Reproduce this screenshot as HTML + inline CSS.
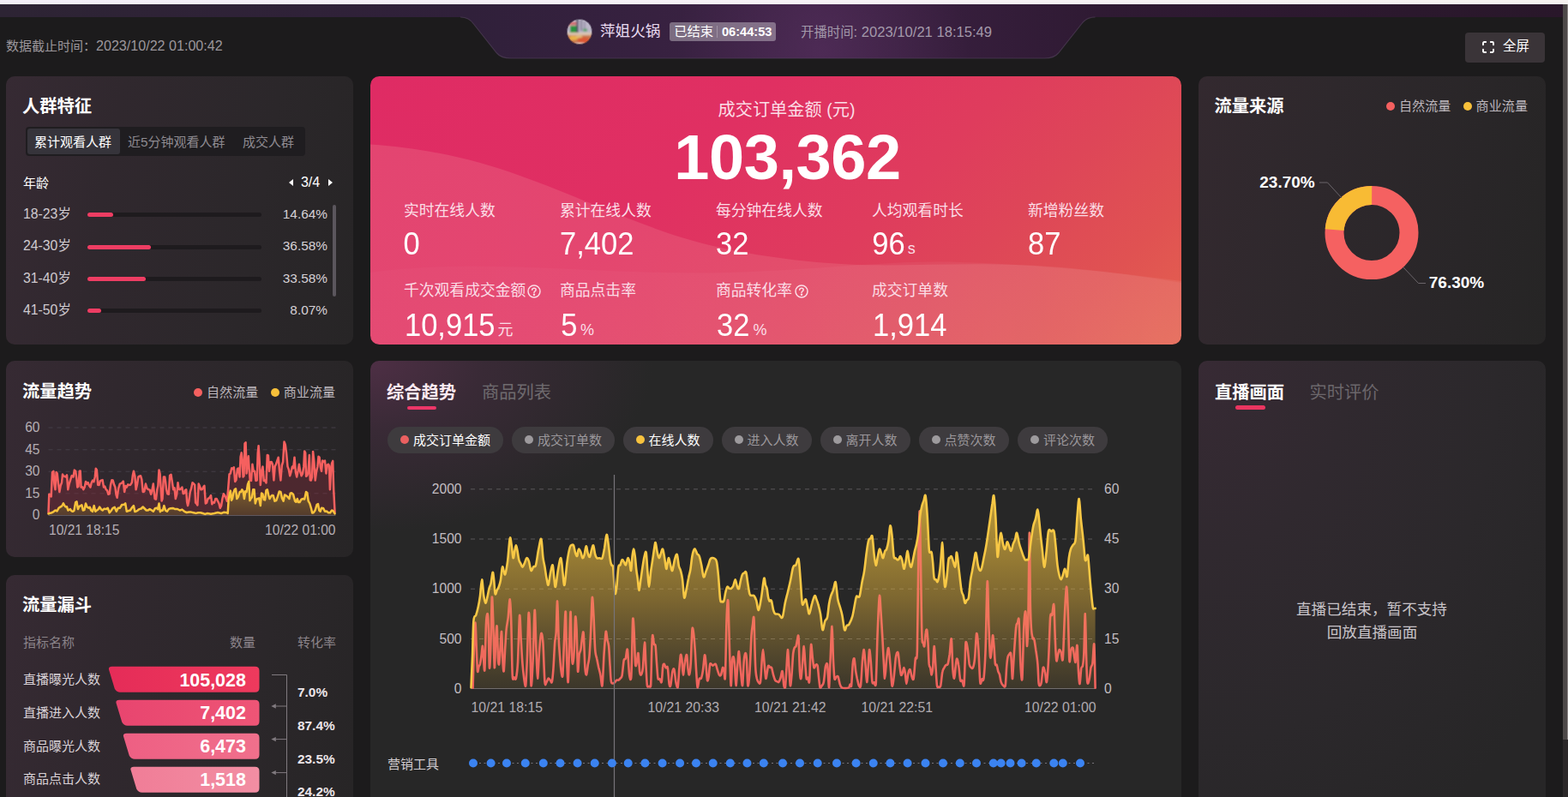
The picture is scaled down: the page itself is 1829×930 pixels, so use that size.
<!DOCTYPE html>
<html lang="zh-CN">
<head>
<meta charset="utf-8">
<title>直播大屏</title>
<style>
*{box-sizing:border-box;margin:0;padding:0}
html,body{width:1829px;height:930px;overflow:hidden;background:#1c1b1c}
body{position:relative;font-family:"Liberation Sans","Noto Sans CJK SC",sans-serif;font-size:15.4px;color:#fff;line-height:1}
.a{position:absolute}
.t{position:absolute;white-space:nowrap;line-height:1;height:1em;transform:translateY(-50%)}
.r{text-align:right;transform:translate(-100%,-50%)}
.c{text-align:center;transform:translate(-50%,-50%)}
.panel{position:absolute;border-radius:10px;overflow:hidden}
.b{font-weight:bold}
.tall{display:inline-block;transform:scaleY(1.09);transform-origin:50% 52%}
.h{font-size:20.3px;color:#fff;margin-left:-1px}
.pill{top:498px;height:30.6px;border-radius:15.3px;background:#3e3b3e;font-size:15px;color:#9b979b;white-space:nowrap}
.pill i{position:absolute;left:15px;top:10.2px;width:10px;height:10px;border-radius:50%;background:#9d9a9d}
.pill span{position:absolute;left:30px;top:14.8px;height:1em;line-height:1;transform:translateY(-50%)}
</style>
</head>
<body>

<!-- ======= top strip + header ======= -->
<div class="a" style="left:0;top:0;width:1829px;height:5px;background:linear-gradient(90deg,#f3eef8,#f6f1f6 50%,#f6f2f0)"></div>
<svg class="a" style="left:0;top:5px" width="1829" height="70" viewBox="0 5 1829 70">
  <defs>
    <linearGradient id="hg" x1="0" x2="1829" y1="0" y2="0" gradientUnits="userSpaceOnUse">
      <stop offset="0" stop-color="#2d2434"/><stop offset=".3" stop-color="#30203a"/><stop offset=".52" stop-color="#3d2245"/><stop offset=".7" stop-color="#2f1a33"/><stop offset="1" stop-color="#29172a"/>
    </linearGradient>
    <radialGradient id="hglow" cx="960" cy="60" r="170" gradientUnits="userSpaceOnUse">
      <stop offset="0" stop-color="#6a3a72" stop-opacity=".36"/><stop offset="1" stop-color="#6a3a72" stop-opacity="0"/>
    </radialGradient>
  </defs>
  <path id="hp" d="M0 5H1829V20H1277.5Q1267.5 20 1261.5 28L1234.5 62Q1229.5 68 1218.5 68H596Q584.5 68 579.5 62L552.5 28Q547 20 537 20H0Z" fill="url(#hg)"/>
  <path d="M0 5H1829V20H1277.5Q1267.5 20 1261.5 28L1234.5 62Q1229.5 68 1218.5 68H596Q584.5 68 579.5 62L552.5 28Q547 20 537 20H0Z" fill="url(#hglow)"/>
  <path d="M1277.5 20Q1267.5 20 1261.5 28L1234.5 62Q1229.5 68 1218.5 68H596Q584.5 68 579.5 62L552.5 28Q547 20 537 20" fill="none" stroke="#5a4763" stroke-opacity=".55" stroke-width="1.2"/>
</svg>
<div class="a" style="left:1823px;top:5px;width:6px;height:858px;background:#4d4949"></div>
<div class="a" style="left:1823px;top:863px;width:6px;height:67px;background:#2b2829"></div>
<div class="a" style="left:1828px;top:5px;width:1px;height:858px;background:#8a8585"></div>

<div class="t" style="left:7px;top:52px;font-size:15px;color:#9b969b">数据截止时间：<span style="font-size:16.1px">2023/10/22 01:00:42</span></div>

<!-- avatar -->
<svg class="a" style="left:661px;top:21.5px" width="30" height="30" viewBox="0 0 30 30">
  <defs><clipPath id="av"><circle cx="15" cy="15" r="14.8"/></clipPath><filter id="bl" x="-10%" y="-10%" width="120%" height="120%"><feGaussianBlur stdDeviation="1"/></filter></defs>
  <g clip-path="url(#av)"><g filter="url(#bl)">
    <rect x="-3" y="-3" width="36" height="36" fill="#bdb7c9"/>
    <rect x="0" y="3" width="12" height="6" fill="#d8aaac"/>
    <rect x="3" y="4.2" width="8" height="2.4" fill="#d0545b"/>
    <rect x="4" y="8" width="8.5" height="8" fill="#2a9341"/>
    <rect x="11.4" y="0" width="2.2" height="16" fill="#4d4862"/>
    <rect x="16.3" y="1" width="1.5" height="13" fill="#6f6a86"/>
    <rect x="20.2" y="3" width="1.2" height="10" fill="#7d7893"/>
    <rect x="19" y="11.6" width="5" height="3" fill="#59a469"/>
    <rect x="-3" y="16" width="36" height="3.6" fill="#dbc5b1"/>
    <rect x="-3" y="19.2" width="36" height="14" fill="#c8764e"/>
    <ellipse cx="8" cy="22.3" rx="5" ry="2.6" fill="#eab24a"/>
    <ellipse cx="19.5" cy="24.8" rx="7" ry="3.2" fill="#dc5834"/>
    <ellipse cx="14.5" cy="20.8" rx="4" ry="1.4" fill="#e4c47c"/>
    <rect x="10" y="28.2" width="10" height="2.5" fill="#e6d6ca"/>
  </g></g>
  <circle cx="15" cy="15" r="14.6" fill="none" stroke="#1b0f26" stroke-opacity=".45" stroke-width="1"/>
</svg>
<div class="t" style="left:700px;top:37.2px;font-size:17.6px;color:#eadcf2">萍姐火锅</div>
<div class="a" style="left:781px;top:26px;width:124px;height:21.5px;border-radius:3px;background:rgba(255,255,255,.34)"></div>
<div class="a" style="left:836px;top:30px;width:1px;height:14px;background:rgba(255,255,255,.25)"></div>
<div class="t" style="left:786.2px;top:37px;font-size:15.3px;color:#fff">已结束</div>
<div class="t b" style="left:842px;top:37.2px;font-size:14.6px;color:#fff">06:44:53</div>
<div class="t" style="left:934px;top:37.6px;color:#a399aa">开播时间<span style="font-size:16.6px">: 2023/10/21 18:15:49</span></div>

<!-- fullscreen button -->
<div class="a" style="left:1709px;top:38px;width:93px;height:35px;border-radius:4px;background:#3a3438"></div>
<svg class="a" style="left:1729px;top:48px" width="14" height="14" viewBox="0 0 14 14" fill="none" stroke="#fff" stroke-width="1.9" stroke-linecap="round" stroke-linejoin="round">
  <path d="M1 4.2V2.2Q1 1 2.2 1H4.2M9.8 1H11.8Q13 1 13 2.2V4.2M13 9.8V11.8Q13 13 11.8 13H9.8M4.2 13H2.2Q1 13 1 11.8V9.8"/>
</svg>
<div class="t" style="left:1753px;top:54.4px;font-size:15.4px;color:#fff">全屏</div>

<!-- ======= LEFT: 人群特征 ======= -->
<div class="panel" style="left:7px;top:89px;width:405px;height:313px;background:linear-gradient(100deg,#362a33 0%,#30282e 30%,#2b272a 70%,#272526 100%)"></div>
<div class="t b h" style="left:27px;top:123.8px">人群特征</div>
<div class="a" style="left:30px;top:148px;width:326px;height:34px;border-radius:4px;background:#1f1d20"></div>
<div class="a" style="left:32px;top:150px;width:108px;height:30px;border-radius:3px;background:#36343b"></div>
<div class="t" style="left:40px;top:165.3px;font-size:15px;color:#fff">累计观看人群</div>
<div class="t" style="left:149px;top:165.3px;font-size:15px;color:#8e8a90">近<span style="font-size:15.4px">5</span>分钟观看人群</div>
<div class="t" style="left:283px;top:165.3px;font-size:15px;color:#8e8a90">成交人群</div>
<div class="t" style="left:27px;top:212.5px;font-size:15px;color:#fff">年龄</div>
<svg class="a" style="left:336px;top:207px" width="54" height="12" viewBox="0 0 54 12"><path d="M1 6L6 2V10Z" fill="#fff"/><path d="M52 6L47 2V10Z" fill="#fff"/></svg>
<div class="t c" style="left:362px;top:212.8px;font-size:16px;color:#fff">3/4</div>

<div class="t" style="left:27px;top:249.7px;font-size:15.8px;color:#cfcacf">18-23<span style="font-size:15.4px">岁</span></div>
<div class="t" style="left:27px;top:287.2px;font-size:15.8px;color:#cfcacf">24-30<span style="font-size:15.4px">岁</span></div>
<div class="t" style="left:27px;top:324.7px;font-size:15.8px;color:#cfcacf">31-40<span style="font-size:15.4px">岁</span></div>
<div class="t" style="left:27px;top:362px;font-size:15.8px;color:#cfcacf">41-50<span style="font-size:15.4px">岁</span></div>
<div class="a" style="left:102px;top:248px;width:203px;height:5px;border-radius:3px;background:#1e1b1e"><div style="width:14.64%;height:5px;border-radius:3px;background:#ee3d63"></div></div>
<div class="a" style="left:102px;top:285.5px;width:203px;height:5px;border-radius:3px;background:#1e1b1e"><div style="width:36.58%;height:5px;border-radius:3px;background:#ee3d63"></div></div>
<div class="a" style="left:102px;top:323px;width:203px;height:5px;border-radius:3px;background:#1e1b1e"><div style="width:33.58%;height:5px;border-radius:3px;background:#ee3d63"></div></div>
<div class="a" style="left:102px;top:360px;width:203px;height:5px;border-radius:3px;background:#1e1b1e"><div style="width:8.07%;height:5px;border-radius:3px;background:#ee3d63"></div></div>
<div class="t r" style="left:382px;top:249.7px;font-size:15.4px;color:#d6d1d6">14.64%</div>
<div class="t r" style="left:382px;top:287.2px;font-size:15.4px;color:#d6d1d6">36.58%</div>
<div class="t r" style="left:382px;top:324.7px;font-size:15.4px;color:#d6d1d6">33.58%</div>
<div class="t r" style="left:382px;top:362px;font-size:15.4px;color:#d6d1d6">8.07%</div>
<div class="a" style="left:387.5px;top:239px;width:4.5px;height:107px;border-radius:3px;background:#5b565d"></div>

<!-- ======= LEFT: 流量趋势 ======= -->
<div class="panel" style="left:7px;top:421px;width:405px;height:229px;background:linear-gradient(100deg,#362a33 0%,#30282e 30%,#2b272a 70%,#272526 100%)"></div>
<div class="t b h" style="left:27px;top:457px">流量趋势</div>
<div class="a" style="left:225.7px;top:453.4px;width:10px;height:10px;border-radius:50%;background:#f4605f"></div>
<div class="t" style="left:241px;top:458px;font-size:15.1px;color:#bdb7bd">自然流量</div>
<div class="a" style="left:315.8px;top:453.4px;width:10px;height:10px;border-radius:50%;background:#f7c03a"></div>
<div class="t" style="left:330.7px;top:458px;font-size:15.1px;color:#bdb7bd">商业流量</div>
<div class="t r" style="left:46.5px;top:499px;font-size:15.6px;color:#b5aeb4">60</div>
<div class="t r" style="left:46.5px;top:524.8px;font-size:15.6px;color:#b5aeb4">45</div>
<div class="t r" style="left:46.5px;top:550.2px;font-size:15.6px;color:#b5aeb4">30</div>
<div class="t r" style="left:46.5px;top:575.8px;font-size:15.6px;color:#b5aeb4">15</div>
<div class="t r" style="left:46.5px;top:601.3px;font-size:15.6px;color:#b5aeb4">0</div>
<div class="t" style="left:57px;top:618.8px;font-size:15.6px;color:#b5aeb4">10/21 18:15</div>
<div class="t r" style="left:391.5px;top:618.8px;font-size:15.6px;color:#b5aeb4">10/22 01:00</div>
<svg class="a" style="left:50px;top:490px" width="350" height="120" viewBox="50 490 350 120">
<defs><linearGradient id="sy" x1="0" x2="0" y1="560" y2="601" gradientUnits="userSpaceOnUse"><stop offset="0" stop-color="#a88830" stop-opacity=".7"/><stop offset="1" stop-color="#5a4a2a" stop-opacity=".6"/></linearGradient></defs>
<path d="M56.5 499.0H391.5" stroke="#453f48" stroke-width="1" stroke-dasharray="5 5" fill="none"/>
<path d="M56.5 524.8H391.5" stroke="#453f48" stroke-width="1" stroke-dasharray="5 5" fill="none"/>
<path d="M56.5 550.2H391.5" stroke="#453f48" stroke-width="1" stroke-dasharray="5 5" fill="none"/>
<path d="M56.5 575.8H391.5" stroke="#453f48" stroke-width="1" stroke-dasharray="5 5" fill="none"/>
<path d="M56.5 601.5H391.5" stroke="#5f585f" stroke-width="1" fill="none"/>
<path d="M56.5 598.2L57.3 576.7L58.5 576.9L59.7 579.4L61.0 551.1L62.4 549.8L63.4 564.9L64.5 571.3L65.6 550.9L66.7 552.5L68.0 564.3L69.4 574.0L70.7 566.5L72.0 563.2L73.0 553.6L73.9 555.2L75.3 555.9L76.6 556.5L78.0 554.3L79.3 571.3L80.6 564.9L82.0 560.5L83.7 555.1L85.5 556.5L86.8 548.6L88.2 549.8L89.2 557.3L90.3 568.6L91.5 567.6L92.7 549.8L93.7 549.6L94.6 568.6L96.0 568.2L97.3 571.3L98.7 568.4L100.0 561.9L101.3 564.6L102.7 563.2L104.0 566.6L105.4 568.6L106.7 563.3L108.1 560.5L109.4 562.3L110.8 556.5L111.8 546.7L112.9 548.4L114.2 565.8L115.6 565.9L116.9 561.2L118.3 560.5L119.6 560.1L121.0 568.6L122.3 567.6L123.7 571.3L125.0 572.2L126.3 576.7L127.7 576.3L129.0 565.9L130.4 560.2L131.7 560.5L133.1 565.6L134.4 568.6L135.5 577.1L136.6 580.7L138.2 569.8L139.8 564.6L141.1 564.1L142.5 563.2L143.8 561.6L145.2 574.0L146.5 567.1L147.8 568.6L149.2 565.4L150.5 565.9L152.2 565.7L153.8 563.2L154.8 555.1L155.9 549.8L157.3 555.2L158.6 571.3L159.9 565.7L161.3 556.5L162.6 555.6L164.0 555.2L165.3 559.4L166.7 574.0L168.3 573.5L169.9 564.6L171.6 570.1L173.4 571.3L174.7 571.6L176.1 576.7L177.4 571.9L178.8 564.6L179.7 573.9L180.6 582.0L182.0 582.6L183.3 571.3L184.4 566.8L185.5 548.4L186.6 552.8L187.6 568.6L188.6 584.5L189.5 582.0L190.9 556.4L192.2 556.5L193.1 562.2L194.1 571.3L195.4 576.4L196.8 576.7L198.1 554.7L199.5 553.8L200.8 562.3L202.2 571.3L203.5 569.3L204.8 582.0L206.2 576.9L207.5 563.2L208.6 570.6L209.7 571.3L211.0 570.4L212.4 568.6L213.7 576.1L215.1 575.3L216.1 571.8L217.2 571.3L218.1 585.7L219.1 590.1L220.4 584.2L221.8 574.0L223.1 569.9L224.5 563.2L225.8 564.3L227.2 565.9L228.1 586.5L229.0 587.4L230.4 589.5L231.7 564.6L233.1 567.6L234.4 571.3L235.8 571.0L237.1 568.6L238.4 566.8L239.8 587.4L241.1 586.6L242.5 582.0L244.2 581.2L246.0 578.0L247.3 588.3L248.7 586.1L250.0 586.6L251.3 582.0L252.7 582.0L254.0 584.7L255.4 587.3L256.7 592.8L258.1 590.1L259.4 582.0L260.8 576.3L262.1 578.0L263.4 580.9L264.8 584.7L266.1 571.3L267.5 553.4L268.8 552.5L270.2 546.2L271.5 547.1L272.8 545.3L274.2 561.9L275.5 560.1L276.9 547.1L278.2 546.5L279.6 556.5L280.6 533.1L281.7 528.3L282.7 538.4L283.6 556.5L284.5 555.5L285.5 517.5L286.6 516.2L287.6 552.5L288.7 541.0L289.8 532.3L290.7 548.2L291.7 560.5L293.0 560.9L294.4 541.7L295.7 549.8L297.0 549.8L298.4 560.9L299.7 560.5L300.7 529.0L301.6 520.2L302.7 538.2L303.8 565.9L305.1 551.1L306.5 544.4L307.8 561.1L309.1 560.5L310.5 563.4L311.8 531.0L312.9 531.4L314.0 549.8L315.3 539.3L316.7 539.0L318.0 542.1L319.4 560.5L320.7 544.3L322.0 541.7L323.4 537.5L324.7 533.7L326.1 550.2L327.4 560.5L328.8 543.0L330.1 539.0L331.5 515.5L332.8 518.9L334.1 528.9L335.5 544.4L336.8 547.7L338.2 555.2L339.5 550.8L340.9 544.4L342.2 546.2L343.5 533.7L344.9 550.9L346.2 556.5L347.6 549.4L348.9 541.7L350.3 550.7L351.6 555.2L353.0 552.6L354.3 544.4L355.2 526.4L356.2 528.3L357.1 555.8L358.1 555.2L359.4 552.0L360.8 531.0L361.8 560.2L362.9 560.5L364.0 556.6L365.1 526.9L366.4 539.1L367.7 560.5L369.1 550.2L370.4 544.4L371.5 532.7L372.6 533.7L373.8 544.7L375.0 549.8L376.3 537.4L377.7 539.0L379.0 537.5L380.4 552.5L381.7 542.5L383.1 541.7L384.0 543.5L384.9 571.3L386.0 549.4L387.1 540.4L388.2 537.9L389.2 571.3L390.6 598.2L390.6 600.9L56.5 600.9Z" fill="#7e2c3a" fill-opacity=".42"/>
<path d="M56.5 598.2L57.3 576.7L58.5 576.9L59.7 579.4L61.0 551.1L62.4 549.8L63.4 564.9L64.5 571.3L65.6 550.9L66.7 552.5L68.0 564.3L69.4 574.0L70.7 566.5L72.0 563.2L73.0 553.6L73.9 555.2L75.3 555.9L76.6 556.5L78.0 554.3L79.3 571.3L80.6 564.9L82.0 560.5L83.7 555.1L85.5 556.5L86.8 548.6L88.2 549.8L89.2 557.3L90.3 568.6L91.5 567.6L92.7 549.8L93.7 549.6L94.6 568.6L96.0 568.2L97.3 571.3L98.7 568.4L100.0 561.9L101.3 564.6L102.7 563.2L104.0 566.6L105.4 568.6L106.7 563.3L108.1 560.5L109.4 562.3L110.8 556.5L111.8 546.7L112.9 548.4L114.2 565.8L115.6 565.9L116.9 561.2L118.3 560.5L119.6 560.1L121.0 568.6L122.3 567.6L123.7 571.3L125.0 572.2L126.3 576.7L127.7 576.3L129.0 565.9L130.4 560.2L131.7 560.5L133.1 565.6L134.4 568.6L135.5 577.1L136.6 580.7L138.2 569.8L139.8 564.6L141.1 564.1L142.5 563.2L143.8 561.6L145.2 574.0L146.5 567.1L147.8 568.6L149.2 565.4L150.5 565.9L152.2 565.7L153.8 563.2L154.8 555.1L155.9 549.8L157.3 555.2L158.6 571.3L159.9 565.7L161.3 556.5L162.6 555.6L164.0 555.2L165.3 559.4L166.7 574.0L168.3 573.5L169.9 564.6L171.6 570.1L173.4 571.3L174.7 571.6L176.1 576.7L177.4 571.9L178.8 564.6L179.7 573.9L180.6 582.0L182.0 582.6L183.3 571.3L184.4 566.8L185.5 548.4L186.6 552.8L187.6 568.6L188.6 584.5L189.5 582.0L190.9 556.4L192.2 556.5L193.1 562.2L194.1 571.3L195.4 576.4L196.8 576.7L198.1 554.7L199.5 553.8L200.8 562.3L202.2 571.3L203.5 569.3L204.8 582.0L206.2 576.9L207.5 563.2L208.6 570.6L209.7 571.3L211.0 570.4L212.4 568.6L213.7 576.1L215.1 575.3L216.1 571.8L217.2 571.3L218.1 585.7L219.1 590.1L220.4 584.2L221.8 574.0L223.1 569.9L224.5 563.2L225.8 564.3L227.2 565.9L228.1 586.5L229.0 587.4L230.4 589.5L231.7 564.6L233.1 567.6L234.4 571.3L235.8 571.0L237.1 568.6L238.4 566.8L239.8 587.4L241.1 586.6L242.5 582.0L244.2 581.2L246.0 578.0L247.3 588.3L248.7 586.1L250.0 586.6L251.3 582.0L252.7 582.0L254.0 584.7L255.4 587.3L256.7 592.8L258.1 590.1L259.4 582.0L260.8 576.3L262.1 578.0L263.4 580.9L264.8 584.7L266.1 571.3L267.5 553.4L268.8 552.5L270.2 546.2L271.5 547.1L272.8 545.3L274.2 561.9L275.5 560.1L276.9 547.1L278.2 546.5L279.6 556.5L280.6 533.1L281.7 528.3L282.7 538.4L283.6 556.5L284.5 555.5L285.5 517.5L286.6 516.2L287.6 552.5L288.7 541.0L289.8 532.3L290.7 548.2L291.7 560.5L293.0 560.9L294.4 541.7L295.7 549.8L297.0 549.8L298.4 560.9L299.7 560.5L300.7 529.0L301.6 520.2L302.7 538.2L303.8 565.9L305.1 551.1L306.5 544.4L307.8 561.1L309.1 560.5L310.5 563.4L311.8 531.0L312.9 531.4L314.0 549.8L315.3 539.3L316.7 539.0L318.0 542.1L319.4 560.5L320.7 544.3L322.0 541.7L323.4 537.5L324.7 533.7L326.1 550.2L327.4 560.5L328.8 543.0L330.1 539.0L331.5 515.5L332.8 518.9L334.1 528.9L335.5 544.4L336.8 547.7L338.2 555.2L339.5 550.8L340.9 544.4L342.2 546.2L343.5 533.7L344.9 550.9L346.2 556.5L347.6 549.4L348.9 541.7L350.3 550.7L351.6 555.2L353.0 552.6L354.3 544.4L355.2 526.4L356.2 528.3L357.1 555.8L358.1 555.2L359.4 552.0L360.8 531.0L361.8 560.2L362.9 560.5L364.0 556.6L365.1 526.9L366.4 539.1L367.7 560.5L369.1 550.2L370.4 544.4L371.5 532.7L372.6 533.7L373.8 544.7L375.0 549.8L376.3 537.4L377.7 539.0L379.0 537.5L380.4 552.5L381.7 542.5L383.1 541.7L384.0 543.5L384.9 571.3L386.0 549.4L387.1 540.4L388.2 537.9L389.2 571.3L390.6 598.2" fill="none" stroke="#f5605f" stroke-width="2.5" stroke-linejoin="round" stroke-linecap="round"/>
<path d="M56.5 599.5L58.5 598.7L60.5 598.2L62.5 597.1L64.5 595.5L66.5 596.4L68.5 592.8L70.3 591.6L72.0 590.6L73.0 589.1L73.9 587.4L75.3 590.0L76.6 591.5L78.0 591.3L79.3 595.5L80.6 594.9L82.0 594.1L83.3 596.2L84.7 596.8L86.4 595.8L88.2 586.1L89.5 585.4L90.9 594.1L92.5 590.8L94.1 590.1L95.4 589.3L96.8 595.5L98.4 595.1L100.0 587.4L101.7 591.7L103.5 592.8L104.8 591.7L106.2 595.5L107.9 596.9L109.7 590.1L111.3 596.7L112.9 595.5L114.5 594.5L116.1 591.5L117.9 594.3L119.6 595.5L121.6 593.6L123.7 594.1L125.7 592.8L127.7 598.2L129.7 595.7L131.7 592.8L133.7 591.8L135.8 596.8L137.8 592.7L139.8 592.8L142.2 589.0L144.6 588.8L146.2 587.3L147.8 596.8L149.9 596.0L151.9 595.5L153.9 592.3L155.9 590.1L157.3 596.9L158.6 596.8L160.6 595.6L162.6 594.1L164.7 593.5L166.7 591.5L168.7 593.5L170.7 595.5L172.7 595.4L174.7 594.1L176.7 595.3L178.8 596.8L180.8 593.3L182.8 592.8L184.1 594.3L185.5 587.4L186.8 597.2L188.2 595.5L189.8 595.7L191.4 590.1L193.1 595.6L194.9 596.8L196.9 593.9L198.9 593.3L201.6 592.9L204.3 594.1L207.0 594.0L209.7 595.5L212.4 594.6L215.1 596.8L217.7 598.0L220.4 597.6L223.1 597.6L225.8 598.2L228.5 598.9L231.2 598.2L233.9 598.2L236.6 599.0L239.2 599.9L241.9 599.0L246.0 599.7L250.0 599.0L254.0 598.0L258.1 599.0L261.4 597.7L264.8 598.2L265.7 598.9L266.7 582.0L267.7 576.9L268.8 572.6L269.9 583.7L271.0 582.0L272.3 575.1L273.7 571.3L275.0 570.3L276.3 582.0L278.0 579.5L279.6 574.0L280.9 574.1L282.3 571.3L283.6 573.2L284.9 582.0L286.3 573.2L287.6 574.0L289.0 565.2L290.3 561.9L291.4 584.1L292.5 582.0L293.8 580.5L295.2 571.3L296.5 571.2L297.8 587.4L299.2 582.6L300.5 582.0L302.2 581.4L303.8 590.1L305.1 575.4L306.5 576.7L307.8 583.0L309.1 583.4L310.5 572.0L311.8 571.3L313.2 577.6L314.5 582.0L315.9 579.7L317.2 578.0L318.8 578.3L320.4 584.7L322.2 584.0L323.9 579.4L325.7 573.5L327.4 574.0L329.0 581.5L330.6 584.7L332.0 577.5L333.3 578.0L335.3 579.5L337.4 582.0L338.7 575.8L340.1 575.3L342.1 577.0L344.1 584.7L345.4 585.8L346.8 582.0L348.1 586.1L349.5 586.1L351.5 582.7L353.5 582.0L355.2 582.5L357.0 574.0L358.3 575.0L359.7 584.7L361.3 587.5L362.9 592.8L364.2 598.5L365.6 598.2L367.6 595.4L369.6 588.8L371.0 588.1L372.3 595.5L373.7 596.7L375.0 592.8L377.0 592.9L379.0 596.8L381.0 596.6L383.1 598.2L385.1 598.3L387.1 595.5L388.8 596.3L390.6 599.5L390.6 600.9L56.5 600.9Z" fill="url(#sy)"/>
<path d="M56.5 599.5L58.5 598.7L60.5 598.2L62.5 597.1L64.5 595.5L66.5 596.4L68.5 592.8L70.3 591.6L72.0 590.6L73.0 589.1L73.9 587.4L75.3 590.0L76.6 591.5L78.0 591.3L79.3 595.5L80.6 594.9L82.0 594.1L83.3 596.2L84.7 596.8L86.4 595.8L88.2 586.1L89.5 585.4L90.9 594.1L92.5 590.8L94.1 590.1L95.4 589.3L96.8 595.5L98.4 595.1L100.0 587.4L101.7 591.7L103.5 592.8L104.8 591.7L106.2 595.5L107.9 596.9L109.7 590.1L111.3 596.7L112.9 595.5L114.5 594.5L116.1 591.5L117.9 594.3L119.6 595.5L121.6 593.6L123.7 594.1L125.7 592.8L127.7 598.2L129.7 595.7L131.7 592.8L133.7 591.8L135.8 596.8L137.8 592.7L139.8 592.8L142.2 589.0L144.6 588.8L146.2 587.3L147.8 596.8L149.9 596.0L151.9 595.5L153.9 592.3L155.9 590.1L157.3 596.9L158.6 596.8L160.6 595.6L162.6 594.1L164.7 593.5L166.7 591.5L168.7 593.5L170.7 595.5L172.7 595.4L174.7 594.1L176.7 595.3L178.8 596.8L180.8 593.3L182.8 592.8L184.1 594.3L185.5 587.4L186.8 597.2L188.2 595.5L189.8 595.7L191.4 590.1L193.1 595.6L194.9 596.8L196.9 593.9L198.9 593.3L201.6 592.9L204.3 594.1L207.0 594.0L209.7 595.5L212.4 594.6L215.1 596.8L217.7 598.0L220.4 597.6L223.1 597.6L225.8 598.2L228.5 598.9L231.2 598.2L233.9 598.2L236.6 599.0L239.2 599.9L241.9 599.0L246.0 599.7L250.0 599.0L254.0 598.0L258.1 599.0L261.4 597.7L264.8 598.2L265.7 598.9L266.7 582.0L267.7 576.9L268.8 572.6L269.9 583.7L271.0 582.0L272.3 575.1L273.7 571.3L275.0 570.3L276.3 582.0L278.0 579.5L279.6 574.0L280.9 574.1L282.3 571.3L283.6 573.2L284.9 582.0L286.3 573.2L287.6 574.0L289.0 565.2L290.3 561.9L291.4 584.1L292.5 582.0L293.8 580.5L295.2 571.3L296.5 571.2L297.8 587.4L299.2 582.6L300.5 582.0L302.2 581.4L303.8 590.1L305.1 575.4L306.5 576.7L307.8 583.0L309.1 583.4L310.5 572.0L311.8 571.3L313.2 577.6L314.5 582.0L315.9 579.7L317.2 578.0L318.8 578.3L320.4 584.7L322.2 584.0L323.9 579.4L325.7 573.5L327.4 574.0L329.0 581.5L330.6 584.7L332.0 577.5L333.3 578.0L335.3 579.5L337.4 582.0L338.7 575.8L340.1 575.3L342.1 577.0L344.1 584.7L345.4 585.8L346.8 582.0L348.1 586.1L349.5 586.1L351.5 582.7L353.5 582.0L355.2 582.5L357.0 574.0L358.3 575.0L359.7 584.7L361.3 587.5L362.9 592.8L364.2 598.5L365.6 598.2L367.6 595.4L369.6 588.8L371.0 588.1L372.3 595.5L373.7 596.7L375.0 592.8L377.0 592.9L379.0 596.8L381.0 596.6L383.1 598.2L385.1 598.3L387.1 595.5L388.8 596.3L390.6 599.5" fill="none" stroke="#f8c23c" stroke-width="2.5" stroke-linejoin="round" stroke-linecap="round"/>
</svg>

<!-- ======= LEFT: 流量漏斗 ======= -->
<div class="panel" style="left:7px;top:671px;width:405px;height:280px;background:linear-gradient(100deg,#362a33 0%,#30282e 30%,#2b272a 70%,#272526 100%)"></div>
<div class="t b h" style="left:27px;top:706.3px">流量漏斗</div>
<div class="t" style="left:27px;top:748.8px;font-size:15px;color:#8b848a">指标名称</div>
<div class="t r" style="left:298px;top:748.8px;font-size:15px;color:#8b848a">数量</div>
<div class="t" style="left:347px;top:748.8px;font-size:15px;color:#8b848a">转化率</div>
<svg class="a" style="left:120px;top:775px" width="190" height="155" viewBox="120 775 190 155">
  <defs>
    <linearGradient id="f1" x1="0" x2="1"><stop offset="0" stop-color="#e52c58"/><stop offset="1" stop-color="#ee3a5d"/></linearGradient>
    <linearGradient id="f2" x1="0" x2="1"><stop offset="0" stop-color="#e8456f"/><stop offset="1" stop-color="#ee5576"/></linearGradient>
    <linearGradient id="f3" x1="0" x2="1"><stop offset="0" stop-color="#ee5f83"/><stop offset="1" stop-color="#f0708c"/></linearGradient>
    <linearGradient id="f4" x1="0" x2="1"><stop offset="0" stop-color="#f07d97"/><stop offset="1" stop-color="#f28ea3"/></linearGradient>
  </defs>
  <path d="M130.5 777.7H297.5Q302.5 777.7 302.5 782.7V802.7Q302.5 807.7 297.5 807.7H140.0Q136.2 807.7 133.8 803.7L127.3 782.2Q125.7 777.7 130.5 777.7Z" fill="url(#f1)"/>
  <path d="M139.0 816.7H297.5Q302.5 816.7 302.5 821.7V841.7Q302.5 846.7 297.5 846.7H148.5Q144.7 846.7 142.3 842.7L135.8 821.2Q134.2 816.7 139.0 816.7Z" fill="url(#f2)"/>
  <path d="M147.5 855.7H297.5Q302.5 855.7 302.5 860.7V880.7Q302.5 885.7 297.5 885.7H157.0Q153.2 885.7 150.8 881.7L144.3 860.2Q142.7 855.7 147.5 855.7Z" fill="url(#f3)"/>
  <path d="M156.0 894.7H297.5Q302.5 894.7 302.5 899.7V919.7Q302.5 924.7 297.5 924.7H165.5Q161.7 924.7 159.3 920.7L152.8 899.2Q151.2 894.7 156.0 894.7Z" fill="url(#f4)"/>
</svg>
<div class="t" style="left:27px;top:791.6px;font-size:15px;color:#d9d2d7">直播曝光人数</div>
<div class="t" style="left:27px;top:830.6px;font-size:15px;color:#d9d2d7">直播进入人数</div>
<div class="t" style="left:27px;top:869.6px;font-size:15px;color:#d9d2d7">商品曝光人数</div>
<div class="t" style="left:27px;top:908.4px;font-size:15px;color:#d9d2d7">商品点击人数</div>
<div class="t r b" style="left:286.8px;top:794.8px;font-size:21.4px;color:#fff">105,028</div>
<div class="t r b" style="left:286.8px;top:833px;font-size:21.4px;color:#fff">7,402</div>
<div class="t r b" style="left:286.8px;top:872px;font-size:21.4px;color:#fff">6,473</div>
<div class="t r b" style="left:286.8px;top:911px;font-size:21.4px;color:#fff">1,518</div>
<svg class="a" style="left:312px;top:780px" width="30" height="150" viewBox="312 780 30 150" fill="none" stroke="#807a7f" stroke-width="1">
  <path d="M317 787.5H334.5V930M334.5 824H320M334.5 862.6H320M334.5 901.6H320"/>
  <path d="M316.3 824L321.8 821.3V826.7ZM316.3 862.6L321.8 859.9V865.3ZM316.3 901.6L321.8 898.9V904.3Z" fill="#807a7f" stroke="none"/>
</svg>
<div class="t b" style="left:347px;top:808.3px;font-size:15.4px;color:#ece5e9">7.0%</div>
<div class="t b" style="left:347px;top:847px;font-size:15.4px;color:#ece5e9">87.4%</div>
<div class="t b" style="left:347px;top:886px;font-size:15.4px;color:#ece5e9">23.5%</div>
<div class="t b" style="left:347px;top:924px;font-size:15.4px;color:#ece5e9">24.2%</div>

<!-- ======= CENTER: hero card ======= -->
<div class="panel" style="left:432px;top:89px;width:946px;height:313px;border-radius:10.5px;background:linear-gradient(135deg,#df2b64 0%,#e03062 38%,#df3c5d 60%,#de4658 73%,#e05252 87%,#e4624f 100%)">
  <svg class="a" style="left:0;top:0" width="946" height="313" viewBox="432 89 946 313">
    <defs><linearGradient id="wv" x1="432" x2="1378" y1="0" y2="0" gradientUnits="userSpaceOnUse"><stop offset="0" stop-color="#ffdec3" stop-opacity=".14"/><stop offset=".6" stop-color="#ffe6d6" stop-opacity=".11"/><stop offset="1" stop-color="#fff" stop-opacity=".05"/></linearGradient><linearGradient id="wv2" x1="432" x2="1378" y1="0" y2="0" gradientUnits="userSpaceOnUse"><stop offset="0" stop-color="#fff" stop-opacity=".02"/><stop offset=".5" stop-color="#fff" stop-opacity=".035"/><stop offset="1" stop-color="#fff" stop-opacity=".06"/></linearGradient></defs>
    <path d="M432 168.5C480 172 520 179 560 190C640 213 700 245 785 274C840 292 920 306 1000 309C1080 311 1150 304 1250 313C1300 318 1340 324 1378 330V402H432Z" fill="url(#wv)"/>
    <path d="M432 318C560 300 700 322 850 318C960 315 1040 303 1120 306C1230 310 1300 318 1378 328V402H432Z" fill="url(#wv2)"/>
  </svg>
</div>
<div class="t c" style="left:917.5px;top:128.4px;font-size:20.2px;color:#fbdde6">成交订单金额 <span style="font-size:19.5px">(</span>元<span style="font-size:19.5px">)</span></div>
<div class="t c b" style="left:918.5px;top:183.5px;font-size:74px;color:#fff;letter-spacing:-.4px">103,362</div>

<div class="t" style="left:471px;top:247px;font-size:17.8px;color:#fbdde6">实时在线人数</div>
<div class="t" style="left:653px;top:247px;font-size:17.8px;color:#fbdde6">累计在线人数</div>
<div class="t" style="left:835px;top:247px;font-size:17.8px;color:#fbdde6">每分钟在线人数</div>
<div class="t" style="left:1017px;top:247px;font-size:17.8px;color:#fbdde6">人均观看时长</div>
<div class="t" style="left:1199px;top:247px;font-size:17.8px;color:#fbdde6">新增粉丝数</div>
<div class="t" style="left:470.5px;top:284px;font-size:34.5px;color:#fff"><span class="tall">0</span></div>
<div class="t" style="left:653px;top:284px;font-size:34.5px;color:#fff"><span class="tall">7,402</span></div>
<div class="t" style="left:835px;top:284px;font-size:34.5px;color:#fff"><span class="tall">32</span></div>
<div class="t" style="left:1017.3px;top:284px;font-size:34.5px;color:#fff"><span class="tall">96</span><span style="font-size:18px;margin-left:3px;color:#fbdde6">s</span></div>
<div class="t" style="left:1199px;top:284px;font-size:34.5px;color:#fff"><span class="tall">87</span></div>

<div class="t" style="left:471px;top:340.3px;font-size:17.8px;color:#fbdde6">千次观看成交金额</div>
<div class="t" style="left:653px;top:340.3px;font-size:17.8px;color:#fbdde6">商品点击率</div>
<div class="t" style="left:835px;top:340.3px;font-size:17.8px;color:#fbdde6">商品转化率</div>
<div class="t" style="left:1017px;top:340.3px;font-size:17.8px;color:#fbdde6">成交订单数</div>
<svg class="a" style="left:614.5px;top:332.3px" width="16" height="16" viewBox="0 0 16 16" fill="none" stroke="#fbdde6" stroke-width="1.5"><circle cx="8" cy="8" r="7"/><path d="M5.7 6.3Q5.8 4.2 8 4.2Q10.2 4.2 10.2 6.1Q10.2 7.2 9 7.9Q8 8.5 8 9.6" stroke-linecap="round"/><circle cx="8" cy="11.7" r=".5" fill="#fbdde6"/></svg>
<svg class="a" style="left:926.5px;top:332.3px" width="16" height="16" viewBox="0 0 16 16" fill="none" stroke="#fbdde6" stroke-width="1.5"><circle cx="8" cy="8" r="7"/><path d="M5.7 6.3Q5.8 4.2 8 4.2Q10.2 4.2 10.2 6.1Q10.2 7.2 9 7.9Q8 8.5 8 9.6" stroke-linecap="round"/><circle cx="8" cy="11.7" r=".5" fill="#fbdde6"/></svg>
<div class="t" style="left:472px;top:378.6px;font-size:34.5px;color:#fff"><span class="tall">10,915</span><span style="font-size:18px;margin-left:3px;color:#fbdde6">元</span></div>
<div class="t" style="left:654.3px;top:378.6px;font-size:34.5px;color:#fff"><span class="tall">5</span><span style="font-size:18px;margin-left:3.5px;color:#fbdde6">%</span></div>
<div class="t" style="left:836px;top:378.6px;font-size:34.5px;color:#fff"><span class="tall">32</span><span style="font-size:18px;margin-left:4px;color:#fbdde6">%</span></div>
<div class="t" style="left:1018px;top:378.6px;font-size:34.5px;color:#fff"><span class="tall">1,914</span></div>

<!-- ======= CENTER: trend panel ======= -->
<div class="panel" style="left:432px;top:421px;width:946px;height:530px;background:radial-gradient(ellipse 330px 200px at 0 0,#4e2f45 0%,#392a36 40%,#272727 100%)"></div>
<div class="t b h" style="left:452px;top:458px;color:#fdeaf1">综合趋势</div>
<div class="a" style="left:474.5px;top:473.5px;width:34px;height:4.5px;border-radius:3px;background:#ec3668"></div>
<div class="t h" style="left:563px;top:458px;color:#6f6b6f">商品列表</div>

<div class="a pill" style="left:452px;width:135px"><i style="background:#ea6060"></i><span style="color:#fff">成交订单金额</span></div>
<div class="a pill" style="left:597px;width:120px"><i></i><span>成交订单数</span></div>
<div class="a pill" style="left:726.5px;width:105px"><i style="background:#f7c23e"></i><span style="color:#fff">在线人数</span></div>
<div class="a pill" style="left:841.5px;width:105px"><i></i><span>进入人数</span></div>
<div class="a pill" style="left:956.5px;width:105px"><i></i><span>离开人数</span></div>
<div class="a pill" style="left:1071.5px;width:105px"><i></i><span>点赞次数</span></div>
<div class="a pill" style="left:1187px;width:105px"><i></i><span>评论次数</span></div>

<div class="t r" style="left:538.5px;top:570.8px;font-size:15.6px;color:#c3bec2">2000</div>
<div class="t r" style="left:538.5px;top:629px;font-size:15.6px;color:#c3bec2">1500</div>
<div class="t r" style="left:538.5px;top:687.2px;font-size:15.6px;color:#c3bec2">1000</div>
<div class="t r" style="left:538.5px;top:745.5px;font-size:15.6px;color:#c3bec2">500</div>
<div class="t r" style="left:538.5px;top:803.5px;font-size:15.6px;color:#c3bec2">0</div>
<div class="t" style="left:1288px;top:570.8px;font-size:15.6px;color:#c3bec2">60</div>
<div class="t" style="left:1288px;top:629px;font-size:15.6px;color:#c3bec2">45</div>
<div class="t" style="left:1288px;top:687.2px;font-size:15.6px;color:#c3bec2">30</div>
<div class="t" style="left:1288px;top:745.5px;font-size:15.6px;color:#c3bec2">15</div>
<div class="t" style="left:1288px;top:803.5px;font-size:15.6px;color:#c3bec2">0</div>
<div class="t" style="left:549.5px;top:826.3px;font-size:15.8px;color:#b0abb0">10/21 18:15</div>
<div class="t" style="left:755.5px;top:826.3px;font-size:15.8px;color:#b0abb0">10/21 20:33</div>
<div class="t" style="left:880px;top:826.3px;font-size:15.8px;color:#b0abb0">10/21 21:42</div>
<div class="t" style="left:1004.5px;top:826.3px;font-size:15.8px;color:#b0abb0">10/21 22:51</div>
<div class="t r" style="left:1278.5px;top:826.3px;font-size:15.8px;color:#b0abb0">10/22 01:00</div>
<div class="t" style="left:452px;top:890.5px;font-size:15px;color:#d2cdd1">营销工具</div>
<svg class="a" style="left:432px;top:540px" width="946" height="390" viewBox="432 540 946 390">
<defs><linearGradient id="yg" x1="0" x2="0" y1="575" y2="803" gradientUnits="userSpaceOnUse"><stop offset="0" stop-color="#f7c840" stop-opacity=".74"/><stop offset=".55" stop-color="#e8b63c" stop-opacity=".44"/><stop offset="1" stop-color="#caa040" stop-opacity=".13"/></linearGradient>
<linearGradient id="rl" x1="0" x2="0" y1="575" y2="803" gradientUnits="userSpaceOnUse"><stop offset="0" stop-color="#f07860"/><stop offset=".6" stop-color="#f1755c"/><stop offset="1" stop-color="#ee615d"/></linearGradient></defs>
<path d="M549 570.8H1278" stroke="#5a585a" stroke-width="1" stroke-dasharray="5 5" fill="none"/>
<path d="M549 629.0H1278" stroke="#5a585a" stroke-width="1" stroke-dasharray="5 5" fill="none"/>
<path d="M549 687.2H1278" stroke="#5a585a" stroke-width="1" stroke-dasharray="5 5" fill="none"/>
<path d="M549 745.5H1278" stroke="#5a585a" stroke-width="1" stroke-dasharray="5 5" fill="none"/>
<path d="M549 803.5H1278" stroke="#6e6b6e" stroke-width="1" fill="none"/>
<path d="M549.5 802.1C549.7 796.1 550.5 779.4 551.0 766.4C551.5 753.5 551.7 732.6 552.4 724.5C553.1 716.4 554.2 720.7 555.2 717.9C556.1 715.1 557.1 711.5 557.9 707.7C558.7 704.0 559.3 700.7 560.0 695.5C560.7 690.2 561.4 676.4 562.1 676.3C562.8 676.1 563.5 690.0 564.2 694.6C564.9 699.1 565.6 703.1 566.3 703.5C567.0 703.9 567.7 699.7 568.4 696.9C569.1 694.1 569.8 689.5 570.5 686.8C571.2 684.1 571.9 683.9 572.6 680.7C573.3 677.6 574.1 668.7 574.7 667.9C575.2 667.1 575.6 671.6 576.1 675.8C576.6 680.0 577.0 690.9 577.6 693.0C578.2 695.2 579.0 690.1 579.7 688.7C580.4 687.3 581.1 686.6 581.8 684.7C582.5 682.8 583.2 681.1 583.9 677.3C584.6 673.4 585.3 663.4 586.0 661.6C586.6 659.8 587.1 665.1 587.7 666.5C588.2 667.9 588.6 671.9 589.3 670.0C590.1 668.1 591.1 662.0 592.1 655.0C593.0 648.0 594.0 631.2 594.8 628.1C595.5 624.9 596.0 632.1 596.7 636.0C597.3 639.8 598.0 649.8 598.6 651.1C599.1 652.4 599.7 646.0 600.2 643.6C600.8 641.1 601.3 636.5 601.9 636.4C602.5 636.3 603.0 640.1 603.6 642.9C604.1 645.7 604.6 650.8 605.3 653.2C605.9 655.7 606.7 656.2 607.4 657.6C608.1 659.0 608.7 661.7 609.5 661.6C610.2 661.5 611.1 658.5 612.0 656.8C612.8 655.0 613.6 651.4 614.5 651.1C615.3 650.8 616.2 652.7 617.0 655.1C617.8 657.6 618.6 664.7 619.5 665.8C620.4 666.8 621.3 662.5 622.2 661.4C623.2 660.4 624.0 662.8 625.0 659.5C625.9 656.2 627.1 646.7 628.1 641.6C629.2 636.5 630.4 627.4 631.3 628.9C632.1 630.3 632.7 644.9 633.4 650.3C634.1 655.8 634.8 657.6 635.5 661.6C636.1 665.6 636.8 670.9 637.5 674.4C638.2 677.9 638.9 683.6 639.6 682.6C640.4 681.5 641.3 671.7 642.2 667.9C643.0 664.0 644.0 658.3 644.7 659.5C645.4 660.7 645.8 670.8 646.4 675.0C646.9 679.2 647.2 686.6 648.0 684.7C648.8 682.7 650.1 669.0 651.2 663.4C652.2 657.8 653.4 650.3 654.3 651.1C655.2 651.9 655.7 663.0 656.4 668.2C657.1 673.5 657.6 684.8 658.5 682.6C659.4 680.3 660.6 662.1 661.7 654.7C662.7 647.4 663.9 641.7 664.8 638.5C665.7 635.4 666.2 636.3 666.9 636.0C667.6 635.6 668.3 634.9 669.0 636.4C669.7 637.9 670.4 642.9 671.1 645.0C671.8 647.1 672.7 649.3 673.2 649.0C673.7 648.7 673.9 644.8 674.2 643.4C674.6 642.0 674.8 640.5 675.3 640.6C675.8 640.8 676.7 642.5 677.4 644.3C678.1 646.0 678.8 650.6 679.5 651.1C680.2 651.6 680.9 649.7 681.6 647.4C682.3 645.0 683.0 637.5 683.7 637.3C684.4 637.0 685.1 643.8 685.8 645.9C686.5 648.0 687.2 650.5 687.9 649.9C688.6 649.2 689.3 644.0 690.0 641.8C690.7 639.6 691.4 635.6 692.1 636.4C692.8 637.3 693.5 644.5 694.2 646.9C694.8 649.4 695.4 650.4 696.2 651.1C697.1 651.8 698.3 651.2 699.4 651.2C700.4 651.2 701.6 653.1 702.5 651.1C703.5 649.1 704.2 643.9 705.1 639.4C705.9 634.8 706.8 624.5 707.6 623.9C708.3 623.2 709.0 630.3 709.7 635.2C710.4 640.1 711.1 649.2 711.8 653.2C712.4 657.3 712.9 658.2 713.4 659.6C714.0 661.0 714.6 658.3 715.1 661.6C715.6 664.9 716.0 674.3 716.4 679.6C716.8 684.8 717.1 692.5 717.6 693.0C718.2 693.6 718.9 688.1 719.5 682.8C720.1 677.6 720.7 665.5 721.4 661.6C722.1 657.7 722.8 660.7 723.5 659.3C724.2 657.9 724.9 653.8 725.6 653.2C726.3 652.6 727.0 654.4 727.7 655.5C728.4 656.5 729.2 659.6 729.8 659.5C730.4 659.4 730.8 656.0 731.3 654.6C731.7 653.2 732.2 650.9 732.7 651.1C733.2 651.4 733.8 653.7 734.4 656.2C735.0 658.6 735.6 666.9 736.1 665.8C736.6 664.7 737.1 653.9 737.5 649.7C738.0 645.5 738.5 640.8 739.0 640.6C739.5 640.5 740.1 644.7 740.7 648.9C741.3 653.1 741.8 661.4 742.4 665.8C742.9 670.2 743.3 671.6 743.8 675.5C744.3 679.3 744.7 688.7 745.3 688.8C745.9 689.0 746.7 680.9 747.4 676.3C748.1 671.8 748.8 666.1 749.5 661.6C750.2 657.1 750.9 652.3 751.6 649.5C752.3 646.7 753.1 641.9 753.7 644.8C754.3 647.8 754.8 660.7 755.4 667.3C755.9 673.9 756.4 684.7 757.0 684.7C757.7 684.6 758.4 672.3 759.1 667.0C759.8 661.8 760.6 657.5 761.2 653.2C761.9 649.0 762.4 644.9 762.9 641.5C763.5 638.2 764.0 632.6 764.6 633.1C765.2 633.6 766.0 641.6 766.7 644.6C767.4 647.6 768.1 650.9 768.8 651.1C769.5 651.3 770.2 647.5 770.9 645.8C771.6 644.0 772.3 639.8 773.0 640.6C773.7 641.4 774.4 646.6 775.1 650.4C775.8 654.3 776.6 662.5 777.2 663.7C777.8 664.8 778.1 659.4 778.6 657.3C779.1 655.2 779.5 650.7 780.1 651.1C780.7 651.5 781.5 657.4 782.2 659.8C782.9 662.3 783.5 667.0 784.3 665.8C785.1 664.6 786.1 655.9 787.0 652.8C787.9 649.6 788.9 645.7 789.7 646.9C790.6 648.2 791.1 657.0 791.8 660.2C792.5 663.3 793.2 663.2 793.9 665.8C794.6 668.4 795.3 670.6 796.0 675.9C796.7 681.1 797.4 695.2 798.1 697.2C798.9 699.3 799.8 691.9 800.6 688.0C801.5 684.2 802.4 678.0 803.2 674.2C803.9 670.3 804.6 669.2 805.3 665.0C806.0 660.8 806.7 652.8 807.4 649.0C808.0 645.3 808.5 643.9 809.0 642.5C809.6 641.1 810.0 640.0 810.7 640.6C811.4 641.3 812.4 644.8 813.2 646.2C814.1 647.6 814.9 646.7 815.7 649.0C816.6 651.3 817.4 655.8 818.3 659.9C819.1 663.9 819.9 672.2 820.8 673.3C821.6 674.5 822.6 669.2 823.5 666.9C824.4 664.6 825.4 661.8 826.2 659.5C827.0 657.2 827.6 654.3 828.3 652.9C829.0 651.5 829.6 651.3 830.4 651.1C831.2 650.9 832.2 650.9 833.1 651.5C834.1 652.2 835.1 651.8 835.9 655.3C836.7 658.8 837.3 665.0 838.0 672.3C838.7 679.7 839.4 694.4 840.1 699.3C840.8 704.2 841.5 701.4 842.2 701.8C842.9 702.1 843.6 703.3 844.3 701.4C845.0 699.6 845.7 693.6 846.4 690.8C847.1 688.0 847.7 685.4 848.4 684.7C849.1 683.9 849.8 686.1 850.5 686.5C851.2 686.8 851.9 687.2 852.6 686.8C853.4 686.3 854.3 685.6 855.2 683.9C856.0 682.1 856.9 676.3 857.7 676.3C858.4 676.3 859.1 682.2 859.8 684.0C860.5 685.7 861.2 687.9 861.9 686.8C862.6 685.6 863.3 680.0 864.0 677.2C864.7 674.4 865.4 671.4 866.1 670.0C866.8 668.5 867.5 668.8 868.2 668.5C868.9 668.1 869.6 665.8 870.3 667.9C871.0 669.9 871.6 676.5 872.3 680.7C873.0 684.9 873.7 690.7 874.4 693.0C875.2 695.4 876.1 694.6 877.0 694.9C877.8 695.3 878.6 694.2 879.5 695.1C880.3 696.1 881.3 697.8 882.2 700.6C883.1 703.4 883.9 712.5 884.9 711.9C885.9 711.3 887.0 703.0 888.1 696.8C889.1 690.7 890.4 677.4 891.2 675.0C892.0 672.6 892.3 680.7 892.9 682.6C893.5 684.6 894.0 684.4 894.6 686.8C895.1 689.1 895.5 694.1 896.0 696.5C896.5 699.0 897.1 700.8 897.5 701.4C898.0 702.1 898.3 700.3 898.8 700.3C899.2 700.4 899.4 699.6 900.0 701.5C900.6 703.4 901.4 709.4 902.1 711.9C902.8 714.3 903.1 715.4 904.2 716.2C905.2 717.0 907.0 716.1 908.4 716.8C909.8 717.5 911.4 722.5 912.6 720.4C913.8 718.2 914.7 708.8 915.7 703.9C916.8 699.0 917.8 695.4 918.9 691.0C919.9 686.6 921.0 682.5 922.0 677.6C923.1 672.7 924.1 664.7 925.2 661.7C926.2 658.6 927.3 660.7 928.3 659.2C929.4 657.7 930.6 649.8 931.5 652.4C932.3 655.1 932.9 666.6 933.6 675.2C934.3 683.7 935.0 699.0 935.7 703.6C936.4 708.3 937.1 703.8 937.8 703.1C938.5 702.4 939.2 698.6 939.9 699.4C940.6 700.3 941.3 705.3 942.0 708.1C942.7 710.9 943.2 716.9 944.0 716.2C944.9 715.5 946.1 707.6 947.2 704.1C948.2 700.6 949.5 696.0 950.3 695.2C951.2 694.4 951.7 697.7 952.4 699.4C953.1 701.2 953.8 702.8 954.5 705.7C955.3 708.6 956.2 711.9 957.1 716.8C957.9 721.7 958.7 733.7 959.6 735.1C960.4 736.4 961.4 727.3 962.3 724.9C963.2 722.4 964.2 723.8 965.0 720.4C965.8 717.0 966.4 708.5 967.1 704.3C967.8 700.1 968.4 697.8 969.2 695.2C970.0 692.6 971.0 691.3 971.9 688.6C972.9 686.0 973.8 677.5 974.7 679.3C975.5 681.0 976.4 694.2 977.2 699.0C978.0 703.7 978.8 704.7 979.7 707.8C980.6 711.0 981.5 713.3 982.4 717.9C983.3 722.4 984.3 733.1 985.2 735.1C986.0 737.1 986.8 731.0 987.7 730.0C988.5 728.9 989.1 730.6 990.2 728.8C991.3 726.9 993.0 724.1 994.4 718.8C995.8 713.6 997.5 701.1 998.6 697.3C999.6 693.6 1000.0 696.7 1000.7 696.4C1001.4 696.0 1002.0 698.0 1002.8 695.2C1003.6 692.4 1004.6 684.4 1005.5 679.5C1006.4 674.6 1007.4 671.7 1008.2 665.9C1009.1 660.0 1009.9 650.5 1010.8 644.6C1011.6 638.6 1012.5 632.9 1013.3 630.2C1014.0 627.5 1014.7 629.1 1015.4 628.4C1016.1 627.7 1016.8 622.9 1017.5 626.0C1018.2 629.1 1018.9 641.3 1019.6 646.8C1020.3 652.4 1021.0 659.1 1021.7 659.6C1022.4 660.0 1023.1 652.9 1023.8 649.8C1024.5 646.6 1025.2 641.4 1025.9 640.7C1026.6 640.0 1027.3 643.7 1028.0 645.5C1028.7 647.2 1029.4 651.5 1030.0 651.2C1030.7 650.8 1031.4 645.2 1032.1 643.5C1032.8 641.7 1033.5 642.7 1034.2 640.7C1034.9 638.7 1035.6 636.0 1036.3 631.5C1037.0 626.9 1037.7 614.5 1038.4 613.4C1039.1 612.4 1039.8 619.2 1040.5 625.1C1041.2 631.1 1041.9 644.7 1042.6 649.1C1043.3 653.4 1044.0 650.4 1044.7 651.1C1045.4 651.8 1046.2 653.1 1046.8 653.3C1047.5 653.5 1047.9 653.1 1048.5 652.4C1049.1 651.7 1049.6 648.8 1050.2 649.1C1050.8 649.3 1051.6 651.5 1052.3 653.9C1053.0 656.3 1053.7 663.5 1054.4 663.8C1055.1 664.0 1055.8 658.8 1056.5 655.3C1057.2 651.8 1057.9 642.7 1058.6 642.8C1059.3 642.9 1060.0 652.7 1060.7 655.8C1061.4 659.0 1062.1 662.1 1062.8 661.7C1063.5 661.2 1064.2 656.4 1064.9 653.3C1065.6 650.1 1066.3 645.9 1067.0 642.8C1067.7 639.7 1068.4 638.3 1069.1 634.8C1069.8 631.3 1070.5 627.4 1071.2 621.8C1071.9 616.2 1072.6 606.7 1073.3 601.4C1074.0 596.2 1074.7 593.2 1075.4 590.3C1076.1 587.5 1076.8 586.0 1077.5 584.1C1078.2 582.1 1078.9 575.6 1079.6 578.6C1080.3 581.6 1081.0 591.9 1081.7 602.3C1082.3 612.6 1083.2 633.7 1083.7 640.7C1084.3 647.6 1084.7 643.3 1085.2 644.0C1085.7 644.7 1086.2 642.7 1086.7 644.9C1087.2 647.1 1087.7 652.4 1088.2 657.3C1088.6 662.2 1089.0 671.1 1089.6 674.2C1090.2 677.4 1091.0 675.5 1091.7 676.2C1092.4 676.9 1093.0 680.5 1093.8 678.4C1094.6 676.4 1095.6 671.3 1096.5 663.8C1097.5 656.2 1098.6 632.9 1099.3 633.1C1100.0 633.4 1100.2 656.6 1100.7 665.2C1101.2 673.8 1101.6 683.2 1102.2 684.7C1102.8 686.3 1103.6 679.9 1104.3 674.6C1105.0 669.4 1105.8 657.2 1106.4 653.3C1107.0 649.3 1107.5 651.7 1108.1 651.0C1108.6 650.3 1109.1 648.4 1109.8 649.1C1110.4 649.8 1111.2 653.2 1111.9 655.3C1112.6 657.4 1113.4 661.7 1114.0 661.7C1114.5 661.6 1114.7 657.8 1115.0 655.0C1115.4 652.2 1115.4 642.9 1116.1 644.9C1116.7 646.8 1117.9 659.2 1118.8 666.6C1119.7 673.9 1120.7 684.2 1121.5 688.9C1122.3 693.6 1122.9 692.4 1123.6 694.8C1124.3 697.3 1125.0 702.7 1125.7 703.6C1126.4 704.5 1127.1 701.1 1127.8 700.1C1128.5 699.0 1129.2 701.1 1129.9 697.3C1130.6 693.5 1131.3 682.6 1132.0 677.4C1132.7 672.2 1133.4 669.7 1134.1 665.9C1134.8 662.0 1135.5 657.8 1136.2 654.3C1136.9 650.8 1137.5 644.0 1138.3 644.9C1139.1 645.8 1140.0 656.1 1140.8 659.6C1141.6 663.1 1142.6 665.5 1143.3 665.9C1144.1 666.2 1144.7 664.1 1145.4 661.6C1146.1 659.2 1146.8 654.6 1147.5 651.2C1148.2 647.7 1148.9 644.7 1149.6 640.8C1150.3 637.0 1151.0 632.7 1151.7 628.1C1152.4 623.5 1153.1 618.3 1153.8 613.4C1154.5 608.5 1155.3 603.1 1155.9 598.7C1156.5 594.4 1157.0 590.7 1157.6 587.3C1158.1 583.9 1158.6 575.8 1159.3 578.6C1159.9 581.4 1160.7 592.4 1161.4 604.2C1162.1 615.9 1162.8 644.3 1163.5 649.1C1164.2 653.9 1164.9 637.6 1165.6 633.0C1166.3 628.5 1167.0 621.7 1167.7 621.8C1168.4 621.9 1169.0 630.4 1169.7 633.5C1170.4 636.7 1171.3 639.9 1171.8 640.7C1172.4 641.5 1172.8 639.7 1173.3 638.3C1173.8 636.9 1174.2 632.5 1174.8 632.3C1175.4 632.0 1176.2 635.0 1176.9 636.8C1177.6 638.5 1178.4 642.2 1179.0 642.8C1179.6 643.3 1180.0 641.4 1180.4 640.0C1180.9 638.6 1181.3 636.1 1181.9 634.4C1182.5 632.7 1183.3 631.9 1184.0 629.8C1184.7 627.7 1185.3 621.1 1186.1 621.8C1186.9 622.5 1187.9 630.5 1188.8 634.0C1189.7 637.5 1190.8 640.3 1191.6 642.8C1192.4 645.3 1193.0 647.2 1193.7 648.9C1194.4 650.7 1195.1 652.6 1195.8 653.3C1196.5 653.9 1197.2 653.4 1197.9 653.0C1198.6 652.7 1199.1 654.9 1200.0 651.2C1200.8 647.4 1201.8 636.7 1202.7 630.4C1203.6 624.1 1204.5 617.5 1205.4 613.4C1206.3 609.3 1207.1 608.8 1207.9 605.6C1208.8 602.5 1209.7 594.3 1210.4 594.5C1211.1 594.7 1211.6 601.9 1212.1 606.8C1212.7 611.7 1213.2 617.9 1213.8 623.9C1214.4 629.9 1215.2 636.3 1215.9 642.6C1216.6 648.9 1217.2 661.3 1218.0 661.7C1218.8 662.0 1219.7 651.7 1220.5 644.7C1221.3 637.7 1222.1 623.8 1223.0 619.7C1224.0 615.6 1225.1 620.2 1226.2 620.2C1227.2 620.2 1228.4 617.0 1229.3 619.7C1230.2 622.5 1230.7 630.0 1231.4 636.7C1232.1 643.3 1232.8 653.8 1233.5 659.6C1234.2 665.3 1234.9 668.5 1235.6 671.3C1236.3 674.1 1237.0 676.4 1237.7 676.3C1238.4 676.3 1239.1 673.1 1239.8 671.0C1240.5 668.9 1241.3 664.2 1241.9 663.8C1242.5 663.3 1242.9 667.0 1243.4 668.3C1243.9 669.7 1244.2 675.1 1244.8 672.1C1245.4 669.2 1246.2 655.9 1246.9 650.6C1247.6 645.4 1248.2 643.2 1249.0 640.7C1249.8 638.2 1250.9 637.4 1251.8 635.7C1252.7 634.0 1253.7 635.8 1254.5 630.2C1255.3 624.6 1255.9 609.9 1256.6 601.9C1257.3 593.8 1258.0 581.3 1258.7 582.0C1259.4 582.6 1260.1 598.5 1260.8 605.5C1261.5 612.5 1262.3 618.5 1262.9 623.9C1263.5 629.3 1263.9 633.3 1264.3 638.2C1264.8 643.1 1265.3 650.9 1265.8 653.3C1266.3 655.6 1266.9 653.0 1267.5 652.3C1268.1 651.6 1268.4 644.2 1269.2 649.1C1269.9 653.9 1271.0 671.6 1271.9 681.4C1272.8 691.2 1273.9 703.1 1274.6 707.8C1275.3 712.5 1275.6 709.4 1276.1 709.8C1276.6 710.1 1277.3 709.9 1277.6 709.9L1277.6 803.3L549.5 803.3Z" fill="url(#yg)"/>
<path d="M551.6 802.8C551.8 795.1 552.6 763.1 553.1 751.7C553.5 740.2 554.1 725.8 554.5 726.6C554.9 727.3 555.4 748.1 555.8 756.6C556.2 765.1 556.6 780.0 557.0 783.2C557.5 786.4 558.1 779.1 558.5 777.8C559.0 776.6 559.5 776.6 560.0 774.8C560.4 773.0 561.0 769.2 561.4 766.0C561.9 762.9 562.5 753.2 562.9 753.8C563.3 754.4 563.8 765.9 564.2 770.0C564.5 774.1 565.0 787.1 565.4 781.1C565.8 775.1 566.5 739.7 566.9 729.9C567.3 720.2 568.0 716.5 568.4 716.1C568.8 715.7 569.2 717.8 569.6 727.2C570.0 736.7 570.5 774.7 570.9 779.0C571.3 783.3 571.9 768.3 572.3 756.0C572.8 743.8 573.4 701.8 573.8 697.2C574.3 692.6 574.8 713.1 575.3 725.3C575.7 737.6 576.3 775.9 576.8 779.0C577.2 782.1 577.8 753.4 578.2 746.1C578.7 738.9 579.3 727.5 579.7 730.8C580.1 734.0 580.6 761.3 580.9 767.9C581.3 774.5 581.8 776.7 582.2 774.8C582.6 772.9 583.2 760.8 583.7 755.1C584.1 749.5 584.7 734.7 585.1 737.1C585.5 739.4 586.0 763.9 586.4 770.8C586.8 777.7 587.2 785.1 587.7 783.2C588.1 781.3 588.7 765.5 589.1 758.3C589.6 751.1 590.1 740.6 590.6 735.0C591.1 729.3 592.1 726.0 592.7 720.7C593.3 715.3 594.2 698.9 594.8 699.3C595.3 699.8 595.8 710.3 596.2 723.5C596.7 736.7 597.2 777.4 597.7 787.4C598.2 797.4 599.2 789.7 599.8 790.4C600.4 791.0 601.3 794.2 601.9 791.6C602.5 788.9 603.4 783.6 604.0 772.6C604.6 761.6 605.5 722.0 606.1 718.2C606.7 714.4 607.3 738.9 607.8 747.4C608.3 755.9 608.9 768.1 609.5 774.8C610.0 781.5 610.8 788.2 611.3 792.0C611.9 795.8 612.7 803.0 613.2 800.0C613.8 796.3 614.4 779.9 614.9 767.3C615.4 754.8 616.1 721.0 616.6 716.1C617.1 711.2 617.6 721.8 618.1 734.3C618.5 746.9 619.0 794.5 619.5 800.0C620.1 803.0 621.0 783.8 621.6 770.6C622.2 757.4 623.1 714.0 623.7 711.9C624.3 709.8 624.9 744.5 625.4 756.5C625.9 768.4 626.5 791.3 627.1 791.6C627.6 791.9 628.5 766.2 629.2 758.3C629.8 750.5 630.6 740.5 631.3 739.2C631.9 737.9 632.7 741.2 633.4 749.7C634.0 758.2 634.8 788.8 635.5 795.8C636.1 802.7 636.9 796.7 637.5 796.1C638.2 795.4 639.0 792.0 639.6 791.6C640.3 791.2 641.1 792.9 641.7 793.5C642.4 794.1 643.3 797.8 643.8 795.8C644.4 793.7 645.0 786.6 645.5 779.6C646.0 772.7 646.7 755.9 647.2 749.6C647.7 743.4 648.2 745.2 648.7 738.0C649.1 730.8 649.7 700.7 650.1 701.4C650.6 702.2 651.2 733.4 651.6 743.1C652.0 752.9 652.6 760.3 653.1 766.4C653.5 772.5 654.2 780.7 654.7 783.9C655.2 787.0 655.9 793.1 656.4 787.4C656.9 781.6 657.6 756.7 658.1 745.6C658.6 734.6 659.3 710.2 659.8 714.0C660.2 717.8 660.8 758.6 661.2 770.8C661.7 783.1 662.3 798.6 662.7 795.8C663.1 792.9 663.7 764.2 664.2 751.9C664.6 739.7 665.2 712.5 665.6 714.0C666.0 715.5 666.5 752.9 666.9 762.0C667.3 771.2 667.7 774.9 668.2 774.8C668.6 774.7 669.2 769.6 669.6 761.5C670.1 753.3 670.6 724.3 671.1 720.3C671.5 716.3 672.1 725.5 672.6 734.9C673.0 744.4 673.6 778.9 674.0 783.2C674.5 787.5 675.2 767.4 675.7 763.7C676.2 759.9 676.9 760.9 677.4 758.0C677.9 755.1 678.6 747.1 679.1 744.3C679.6 741.4 680.2 734.0 680.7 739.2C681.2 744.3 681.9 771.4 682.4 778.6C682.9 785.8 683.6 787.8 684.1 787.4C684.6 787.0 685.3 779.0 685.8 775.8C686.3 772.7 686.9 772.2 687.4 766.4C687.9 760.7 688.6 748.0 689.1 737.6C689.6 727.2 690.3 699.9 690.8 697.2C691.3 694.5 692.0 710.5 692.5 719.6C693.0 728.7 693.6 750.7 694.2 758.0C694.7 765.4 695.6 765.5 696.2 768.6C696.9 771.8 697.7 776.2 698.3 779.0C699.0 781.8 699.8 784.4 700.4 787.6C701.1 790.7 701.9 803.0 702.5 800.0C703.2 796.2 704.0 771.7 704.6 762.3C705.3 752.9 706.2 739.4 706.7 737.1C707.3 734.7 707.9 744.1 708.4 746.6C708.9 749.2 709.6 749.2 710.1 753.8C710.6 758.4 711.1 771.0 711.6 777.3C712.0 783.5 712.3 792.8 713.0 795.8C713.7 798.7 715.2 797.2 716.2 796.8C717.1 796.5 718.5 794.2 719.3 793.7C720.1 793.2 720.8 793.9 721.4 793.6C722.0 793.3 722.9 792.4 723.5 791.6C724.1 790.8 725.0 791.3 725.6 788.2C726.2 785.1 727.1 773.6 727.7 770.6C728.3 767.6 729.2 770.3 729.8 768.4C730.4 766.5 731.3 755.3 731.9 758.0C732.5 760.8 733.4 781.6 734.0 786.6C734.6 791.7 735.6 794.9 736.1 791.6C736.6 788.3 736.8 775.2 737.1 764.8C737.4 754.4 737.8 726.6 738.2 722.4C738.6 718.2 739.2 728.8 739.6 736.7C740.1 744.5 740.6 769.4 741.1 774.8C741.6 780.2 742.3 774.6 742.8 772.7C743.3 770.8 744.0 760.6 744.5 762.2C745.0 763.9 745.6 779.9 746.1 783.7C746.6 787.4 747.3 788.0 747.8 787.4C748.4 786.7 749.3 785.0 749.9 779.3C750.5 773.6 751.5 750.0 752.0 749.6C752.5 749.3 753.0 769.6 753.5 777.2C753.9 784.7 754.4 796.4 754.9 800.0C755.5 803.0 756.4 800.8 757.0 800.8C757.7 800.8 758.7 803.0 759.1 800.0C759.6 793.7 759.9 768.1 760.2 759.3C760.5 750.5 760.8 742.4 761.2 741.3C761.6 740.1 762.4 749.5 762.9 751.4C763.4 753.3 764.1 750.3 764.6 753.8C765.1 757.3 765.6 769.0 766.1 774.7C766.5 780.3 767.0 788.9 767.5 791.6C768.1 794.2 769.0 791.6 769.6 792.3C770.3 792.9 771.2 797.9 771.7 795.8C772.3 793.6 772.7 781.2 773.2 778.0C773.6 774.9 774.1 774.6 774.7 774.8C775.2 775.0 776.1 778.6 776.8 779.2C777.4 779.8 778.3 776.2 778.8 779.0C779.4 781.8 780.0 794.5 780.5 797.6C781.0 800.7 781.6 802.0 782.2 800.0C782.8 798.0 783.7 787.1 784.3 784.2C784.9 781.4 785.8 779.2 786.4 781.1C787.0 782.9 787.9 793.4 788.5 796.6C789.1 799.7 790.0 803.0 790.6 802.1C791.2 799.7 791.8 786.5 792.3 780.8C792.8 775.1 793.5 766.0 793.9 764.3C794.4 762.6 795.0 766.2 795.4 769.6C795.8 773.1 796.3 787.0 796.9 787.4C797.4 787.8 798.3 775.6 799.0 772.2C799.6 768.7 800.5 763.0 801.1 764.3C801.6 765.6 802.1 777.2 802.5 780.6C803.0 784.1 803.5 788.3 804.0 787.4C804.5 786.4 805.2 782.2 805.7 774.4C806.2 766.5 806.9 740.4 807.4 735.0C807.9 729.6 808.5 734.9 809.0 738.4C809.5 741.8 810.2 751.3 810.7 758.0C811.2 764.8 811.7 776.9 812.2 783.5C812.6 790.1 813.1 800.8 813.6 802.1C814.2 803.0 815.1 793.7 815.7 792.1C816.4 790.6 817.2 793.0 817.8 791.6C818.5 790.1 819.3 786.5 819.9 782.4C820.6 778.3 821.5 765.4 822.0 764.3C822.6 763.3 823.1 770.9 823.5 775.3C823.9 779.7 824.5 791.5 825.0 793.7C825.4 795.9 826.1 792.9 826.6 790.1C827.1 787.2 827.6 776.8 828.3 774.8C829.0 772.8 830.5 776.7 831.5 776.7C832.4 776.7 833.8 774.1 834.6 774.8C835.4 775.5 836.1 779.3 836.7 781.2C837.3 783.0 838.2 786.4 838.8 787.4C839.4 788.4 840.3 788.9 840.9 787.7C841.5 786.4 842.5 779.8 843.0 779.0C843.5 778.2 844.0 780.7 844.5 782.3C844.9 783.8 845.5 798.6 845.9 789.5C846.4 780.3 847.1 734.6 847.6 721.4C848.1 708.2 848.8 696.1 849.3 701.4C849.8 706.8 850.5 742.2 851.0 757.0C851.5 771.8 852.2 797.7 852.6 800.0C853.1 802.2 853.7 776.9 854.1 771.9C854.5 766.8 855.1 765.8 855.6 766.4C856.0 767.0 856.6 770.9 857.0 775.9C857.5 780.9 858.0 799.7 858.5 800.0C859.0 800.2 859.7 783.4 860.2 777.5C860.7 771.5 861.3 759.3 861.9 760.1C862.4 761.0 863.3 777.1 864.0 783.1C864.6 789.1 865.5 801.6 866.1 800.0C866.6 798.3 867.2 777.6 867.7 771.9C868.2 766.3 868.9 762.7 869.4 762.2C869.9 761.8 870.4 763.2 870.9 768.9C871.3 774.6 871.8 797.5 872.3 800.0C872.9 802.4 873.8 793.8 874.4 785.0C875.1 776.2 876.0 749.7 876.5 741.3C877.1 732.8 877.6 731.8 878.0 729.0C878.4 726.1 879.0 715.1 879.5 722.4C879.9 729.7 880.6 767.5 881.2 777.9C881.7 788.2 882.3 788.8 882.8 791.6C883.4 794.3 884.3 795.6 884.9 796.3C885.6 796.9 886.5 799.2 887.0 795.8C887.6 792.4 888.1 779.3 888.5 773.6C888.9 768.0 889.5 758.0 890.0 758.0C890.4 758.1 891.1 768.8 891.6 773.8C892.1 778.9 892.8 790.0 893.3 791.6C893.8 793.2 894.3 786.7 894.8 784.5C895.2 782.3 895.7 777.8 896.2 776.9C896.7 776.0 897.6 778.4 898.1 778.8C898.7 779.1 899.4 777.8 900.0 779.1C900.6 780.5 901.5 785.5 902.1 787.7C902.7 789.9 903.6 792.7 904.2 793.8C904.8 794.9 905.7 794.9 906.3 795.2C906.9 795.5 907.8 796.5 908.4 795.9C909.0 795.3 909.9 792.9 910.5 791.0C911.1 789.1 912.0 782.0 912.6 783.3C913.2 784.6 913.8 796.7 914.3 799.5C914.8 802.3 915.5 803.0 915.9 802.2C916.4 799.3 917.0 787.0 917.4 780.4C917.9 773.8 918.4 758.6 918.9 758.1C919.3 757.7 919.9 770.8 920.3 777.1C920.8 783.4 921.3 798.6 921.8 800.1C922.3 801.6 923.0 792.8 923.5 787.1C924.0 781.4 924.7 767.0 925.2 762.3C925.7 757.6 926.3 757.0 926.8 755.8C927.4 754.5 928.1 755.3 928.5 754.0C929.0 752.6 929.6 748.2 930.0 746.7C930.4 745.1 931.0 738.0 931.5 743.5C931.9 749.0 932.5 776.1 932.9 783.3C933.4 790.6 933.9 793.2 934.4 791.7C934.9 790.2 935.6 779.1 936.1 773.4C936.6 767.7 937.3 753.8 937.8 754.0C938.2 754.1 938.8 768.5 939.2 774.1C939.7 779.8 940.2 789.2 940.7 791.7C941.2 794.2 941.9 790.0 942.4 790.6C942.9 791.3 943.6 798.8 944.0 795.9C944.5 793.0 944.8 777.9 945.1 771.3C945.4 764.7 945.7 752.5 946.1 751.9C946.6 751.2 947.3 763.0 947.8 767.1C948.3 771.2 948.9 777.9 949.5 779.1C950.1 780.4 951.0 775.9 951.6 775.6C952.2 775.2 953.2 774.6 953.7 777.0C954.2 779.5 954.7 788.0 955.2 791.8C955.6 795.6 956.1 801.0 956.6 802.2C957.2 803.0 958.1 801.0 958.7 800.1C959.4 799.1 960.2 799.2 960.8 795.9C961.5 792.6 962.3 781.3 962.9 778.1C963.6 775.0 964.6 773.0 965.0 774.9C965.5 776.9 965.8 787.1 966.1 791.2C966.4 795.2 966.7 803.0 967.1 802.2C967.5 798.3 968.3 775.7 968.8 765.0C969.3 754.3 970.0 730.3 970.5 730.9C971.0 731.4 971.5 759.4 971.9 768.6C972.4 777.7 972.9 788.5 973.4 791.7C974.0 794.9 974.9 790.2 975.5 789.9C976.1 789.6 977.0 788.4 977.6 789.6C978.2 790.9 979.1 796.4 979.7 798.3C980.3 800.2 980.9 801.5 981.8 802.2C982.7 802.9 984.7 803.0 986.0 803.0C987.3 803.0 989.3 802.9 990.2 802.2C991.0 801.5 991.2 799.0 991.7 798.6C992.1 798.3 992.7 803.0 993.1 800.1C993.6 796.5 994.3 779.0 994.8 774.3C995.3 769.6 996.0 767.3 996.5 768.6C997.0 770.0 997.7 779.9 998.2 783.3C998.7 786.8 999.3 789.2 999.8 791.7C1000.4 794.2 1001.3 798.8 1001.9 800.1C1002.6 801.3 1003.4 803.0 1004.0 800.1C1004.6 795.9 1005.4 778.2 1005.9 771.9C1006.5 765.6 1007.3 757.5 1007.8 758.1C1008.4 758.7 1009.0 770.2 1009.5 775.9C1010.0 781.5 1010.7 795.4 1011.2 795.9C1011.6 796.4 1012.2 785.2 1012.6 779.5C1013.1 773.8 1013.6 759.2 1014.1 758.1C1014.6 757.1 1015.3 766.6 1015.8 772.2C1016.3 777.9 1016.9 792.3 1017.5 795.9C1018.0 799.5 1018.9 795.9 1019.6 796.2C1020.2 796.6 1021.0 803.0 1021.7 798.0C1022.3 788.7 1023.1 749.7 1023.8 734.3C1024.4 718.9 1025.3 698.2 1025.9 695.2C1026.4 692.2 1027.0 707.2 1027.5 714.1C1028.0 721.1 1028.7 733.0 1029.2 741.4C1029.7 749.7 1030.2 762.3 1030.7 769.8C1031.1 777.4 1031.6 791.9 1032.1 791.7C1032.7 791.6 1033.6 774.2 1034.2 768.8C1034.9 763.5 1035.7 755.2 1036.3 756.1C1037.0 756.9 1037.8 767.7 1038.4 774.3C1039.1 780.9 1039.9 797.7 1040.5 800.1C1041.2 802.5 1042.0 795.3 1042.6 790.6C1043.3 785.9 1044.2 773.0 1044.7 768.6C1045.3 764.3 1045.8 762.8 1046.2 761.8C1046.6 760.9 1047.2 760.2 1047.7 762.3C1048.1 764.5 1048.8 772.5 1049.3 776.3C1049.9 780.0 1050.5 786.1 1051.0 787.5C1051.5 788.9 1052.2 786.7 1052.7 785.4C1053.2 784.2 1053.9 779.1 1054.4 779.1C1054.9 779.2 1055.4 782.8 1055.9 785.7C1056.3 788.5 1056.8 798.0 1057.3 798.0C1057.9 798.0 1058.8 788.2 1059.4 785.7C1060.0 783.2 1060.9 780.6 1061.5 781.2C1062.1 781.8 1063.0 788.0 1063.6 789.6C1064.2 791.2 1065.1 794.9 1065.7 791.7C1066.3 788.6 1067.2 773.7 1067.8 768.6C1068.4 763.6 1069.4 776.6 1069.9 758.1C1070.4 739.7 1070.9 670.1 1071.4 645.8C1071.8 621.6 1072.4 594.0 1072.8 596.6C1073.2 599.2 1073.7 641.4 1074.1 663.1C1074.5 684.8 1074.9 728.3 1075.4 741.4C1075.8 754.4 1076.4 748.1 1076.8 749.9C1077.3 751.8 1077.9 755.7 1078.3 754.0C1078.7 752.2 1079.3 741.2 1079.8 738.4C1080.2 735.6 1080.8 733.3 1081.2 735.1C1081.6 736.8 1082.1 744.1 1082.5 750.0C1082.9 756.0 1083.3 770.5 1083.7 774.9C1084.2 779.3 1084.8 777.4 1085.2 779.3C1085.7 781.2 1086.2 787.6 1086.7 787.5C1087.1 787.4 1087.7 783.8 1088.2 778.8C1088.6 773.8 1089.1 754.5 1089.6 754.0C1090.1 753.4 1090.8 768.2 1091.3 775.1C1091.8 782.0 1092.4 796.1 1093.0 800.1C1093.5 803.0 1094.4 801.5 1095.1 801.5C1095.7 801.5 1096.5 802.7 1097.2 800.1C1097.8 797.5 1098.6 787.3 1099.3 784.1C1099.9 781.0 1100.7 780.3 1101.4 779.1C1102.0 777.9 1102.8 776.6 1103.5 776.0C1104.1 775.3 1104.9 776.8 1105.6 774.9C1106.2 773.1 1107.0 767.9 1107.7 763.5C1108.3 759.1 1109.2 743.0 1109.8 745.6C1110.3 748.2 1110.9 773.9 1111.4 780.8C1111.9 787.8 1112.6 791.9 1113.1 791.7C1113.6 791.5 1114.1 782.8 1114.6 779.3C1115.0 775.8 1115.5 769.1 1116.1 768.6C1116.6 768.1 1117.5 772.2 1118.1 776.0C1118.8 779.7 1119.6 791.1 1120.2 793.8C1120.9 796.5 1121.7 793.1 1122.3 794.0C1123.0 794.9 1124.0 802.8 1124.4 800.1C1124.9 797.4 1125.2 783.5 1125.5 775.9C1125.8 768.4 1126.1 752.7 1126.5 749.8C1127.0 746.8 1128.0 752.7 1128.6 756.4C1129.3 760.2 1130.1 771.5 1130.7 774.9C1131.4 778.3 1132.2 778.4 1132.8 779.0C1133.5 779.7 1134.3 780.7 1134.9 779.1C1135.6 777.6 1136.4 774.6 1137.0 768.6C1137.7 762.7 1138.5 741.2 1139.1 739.3C1139.8 737.3 1140.6 747.1 1141.2 755.6C1141.9 764.1 1142.7 790.4 1143.3 795.9C1143.9 801.4 1144.8 793.0 1145.4 792.4C1146.0 791.7 1146.9 797.0 1147.5 791.7C1148.1 786.4 1149.0 774.2 1149.6 757.2C1150.2 740.2 1151.1 682.4 1151.7 678.4C1152.3 674.4 1152.9 717.3 1153.4 730.6C1153.9 743.8 1154.6 762.2 1155.1 766.5C1155.5 770.9 1156.1 763.6 1156.5 759.8C1157.0 756.0 1157.6 742.2 1158.0 741.4C1158.4 740.6 1159.0 749.4 1159.5 754.4C1159.9 759.4 1160.5 771.7 1160.9 774.9C1161.4 778.1 1162.1 774.5 1162.6 775.8C1163.1 777.0 1163.8 781.6 1164.3 783.3C1164.8 785.0 1165.5 785.3 1166.0 787.2C1166.5 789.1 1167.0 794.0 1167.7 795.9C1168.3 797.8 1169.4 799.3 1170.2 799.9C1170.9 800.5 1172.1 803.0 1172.7 800.1C1173.3 796.8 1173.7 782.8 1174.2 777.8C1174.6 772.8 1175.1 768.7 1175.6 766.5C1176.1 764.4 1176.8 764.1 1177.3 763.4C1177.8 762.8 1178.6 760.6 1179.0 762.3C1179.4 764.1 1179.7 770.8 1180.0 775.2C1180.3 779.6 1180.6 794.3 1181.1 791.7C1181.5 789.1 1182.5 767.2 1183.2 758.0C1183.8 748.9 1184.7 735.5 1185.3 730.9C1185.8 726.2 1186.4 728.0 1186.9 727.0C1187.5 726.1 1188.1 717.1 1188.6 724.6C1189.2 732.0 1189.9 766.7 1190.5 776.8C1191.1 786.8 1191.9 797.9 1192.4 791.7C1192.9 785.5 1193.6 747.2 1194.1 735.5C1194.6 723.9 1195.3 716.4 1195.8 714.1C1196.2 711.8 1196.5 714.2 1196.8 720.2C1197.1 726.2 1197.5 753.3 1197.9 754.0C1198.2 754.6 1198.9 744.6 1199.3 724.8C1199.8 705.0 1200.4 624.9 1200.8 621.8C1201.2 618.7 1201.5 687.6 1201.8 704.3C1202.2 720.9 1202.5 726.9 1202.9 733.0C1203.3 739.1 1204.1 743.0 1204.6 744.9C1205.1 746.8 1205.7 743.5 1206.2 745.6C1206.8 747.7 1207.7 754.4 1208.3 758.8C1209.0 763.2 1210.0 769.3 1210.4 774.9C1210.9 780.5 1211.2 792.3 1211.5 796.1C1211.8 799.9 1212.1 800.0 1212.5 800.1C1213.0 800.2 1214.0 799.8 1214.6 796.7C1215.3 793.6 1216.1 781.1 1216.7 779.1C1217.4 777.2 1218.2 781.1 1218.8 783.6C1219.5 786.1 1220.3 797.9 1220.9 795.9C1221.6 793.9 1222.4 781.6 1223.0 770.3C1223.7 758.9 1224.5 728.3 1225.1 720.4C1225.8 712.5 1226.6 719.6 1227.2 717.4C1227.9 715.2 1228.8 701.5 1229.3 705.7C1229.9 709.9 1230.3 735.5 1230.8 745.2C1231.2 755.0 1231.8 767.8 1232.3 770.7C1232.7 773.6 1233.4 766.5 1233.9 764.7C1234.4 762.8 1235.0 758.7 1235.6 758.1C1236.2 757.6 1237.1 759.6 1237.7 761.2C1238.3 762.8 1239.2 775.1 1239.8 768.6C1240.4 762.2 1241.3 730.6 1241.9 718.0C1242.5 705.5 1243.4 685.6 1244.0 684.7C1244.6 683.9 1245.2 699.7 1245.7 712.6C1246.2 725.5 1246.8 763.9 1247.4 770.7C1247.9 777.5 1248.8 760.1 1249.5 757.9C1250.1 755.7 1251.0 754.9 1251.6 756.1C1252.1 757.2 1252.6 763.2 1253.0 765.7C1253.5 768.2 1254.1 773.7 1254.5 772.8C1254.9 772.0 1255.2 763.0 1255.5 760.1C1255.9 757.3 1256.2 750.2 1256.6 754.0C1257.0 757.7 1257.6 778.8 1258.1 785.4C1258.5 792.0 1259.1 798.8 1259.5 798.0C1260.0 797.2 1260.7 783.1 1261.2 780.0C1261.7 776.8 1262.4 779.6 1262.9 777.0C1263.4 774.5 1263.9 772.1 1264.3 763.0C1264.8 753.8 1265.4 715.7 1265.8 716.2C1266.2 716.7 1266.7 754.1 1267.1 766.1C1267.5 778.0 1267.8 791.8 1268.3 795.9C1268.8 800.0 1269.8 796.0 1270.4 793.5C1271.1 791.0 1271.9 782.1 1272.5 779.1C1273.1 776.1 1273.9 777.7 1274.4 773.6C1275.0 769.5 1275.8 747.5 1276.3 751.9C1276.8 756.2 1277.4 795.0 1277.6 802.6" fill="none" stroke="url(#rl)" stroke-width="2.6" stroke-linejoin="round" stroke-linecap="round"/>
<path d="M549.5 802.1C549.7 796.1 550.5 779.4 551.0 766.4C551.5 753.5 551.7 732.6 552.4 724.5C553.1 716.4 554.2 720.7 555.2 717.9C556.1 715.1 557.1 711.5 557.9 707.7C558.7 704.0 559.3 700.7 560.0 695.5C560.7 690.2 561.4 676.4 562.1 676.3C562.8 676.1 563.5 690.0 564.2 694.6C564.9 699.1 565.6 703.1 566.3 703.5C567.0 703.9 567.7 699.7 568.4 696.9C569.1 694.1 569.8 689.5 570.5 686.8C571.2 684.1 571.9 683.9 572.6 680.7C573.3 677.6 574.1 668.7 574.7 667.9C575.2 667.1 575.6 671.6 576.1 675.8C576.6 680.0 577.0 690.9 577.6 693.0C578.2 695.2 579.0 690.1 579.7 688.7C580.4 687.3 581.1 686.6 581.8 684.7C582.5 682.8 583.2 681.1 583.9 677.3C584.6 673.4 585.3 663.4 586.0 661.6C586.6 659.8 587.1 665.1 587.7 666.5C588.2 667.9 588.6 671.9 589.3 670.0C590.1 668.1 591.1 662.0 592.1 655.0C593.0 648.0 594.0 631.2 594.8 628.1C595.5 624.9 596.0 632.1 596.7 636.0C597.3 639.8 598.0 649.8 598.6 651.1C599.1 652.4 599.7 646.0 600.2 643.6C600.8 641.1 601.3 636.5 601.9 636.4C602.5 636.3 603.0 640.1 603.6 642.9C604.1 645.7 604.6 650.8 605.3 653.2C605.9 655.7 606.7 656.2 607.4 657.6C608.1 659.0 608.7 661.7 609.5 661.6C610.2 661.5 611.1 658.5 612.0 656.8C612.8 655.0 613.6 651.4 614.5 651.1C615.3 650.8 616.2 652.7 617.0 655.1C617.8 657.6 618.6 664.7 619.5 665.8C620.4 666.8 621.3 662.5 622.2 661.4C623.2 660.4 624.0 662.8 625.0 659.5C625.9 656.2 627.1 646.7 628.1 641.6C629.2 636.5 630.4 627.4 631.3 628.9C632.1 630.3 632.7 644.9 633.4 650.3C634.1 655.8 634.8 657.6 635.5 661.6C636.1 665.6 636.8 670.9 637.5 674.4C638.2 677.9 638.9 683.6 639.6 682.6C640.4 681.5 641.3 671.7 642.2 667.9C643.0 664.0 644.0 658.3 644.7 659.5C645.4 660.7 645.8 670.8 646.4 675.0C646.9 679.2 647.2 686.6 648.0 684.7C648.8 682.7 650.1 669.0 651.2 663.4C652.2 657.8 653.4 650.3 654.3 651.1C655.2 651.9 655.7 663.0 656.4 668.2C657.1 673.5 657.6 684.8 658.5 682.6C659.4 680.3 660.6 662.1 661.7 654.7C662.7 647.4 663.9 641.7 664.8 638.5C665.7 635.4 666.2 636.3 666.9 636.0C667.6 635.6 668.3 634.9 669.0 636.4C669.7 637.9 670.4 642.9 671.1 645.0C671.8 647.1 672.7 649.3 673.2 649.0C673.7 648.7 673.9 644.8 674.2 643.4C674.6 642.0 674.8 640.5 675.3 640.6C675.8 640.8 676.7 642.5 677.4 644.3C678.1 646.0 678.8 650.6 679.5 651.1C680.2 651.6 680.9 649.7 681.6 647.4C682.3 645.0 683.0 637.5 683.7 637.3C684.4 637.0 685.1 643.8 685.8 645.9C686.5 648.0 687.2 650.5 687.9 649.9C688.6 649.2 689.3 644.0 690.0 641.8C690.7 639.6 691.4 635.6 692.1 636.4C692.8 637.3 693.5 644.5 694.2 646.9C694.8 649.4 695.4 650.4 696.2 651.1C697.1 651.8 698.3 651.2 699.4 651.2C700.4 651.2 701.6 653.1 702.5 651.1C703.5 649.1 704.2 643.9 705.1 639.4C705.9 634.8 706.8 624.5 707.6 623.9C708.3 623.2 709.0 630.3 709.7 635.2C710.4 640.1 711.1 649.2 711.8 653.2C712.4 657.3 712.9 658.2 713.4 659.6C714.0 661.0 714.6 658.3 715.1 661.6C715.6 664.9 716.0 674.3 716.4 679.6C716.8 684.8 717.1 692.5 717.6 693.0C718.2 693.6 718.9 688.1 719.5 682.8C720.1 677.6 720.7 665.5 721.4 661.6C722.1 657.7 722.8 660.7 723.5 659.3C724.2 657.9 724.9 653.8 725.6 653.2C726.3 652.6 727.0 654.4 727.7 655.5C728.4 656.5 729.2 659.6 729.8 659.5C730.4 659.4 730.8 656.0 731.3 654.6C731.7 653.2 732.2 650.9 732.7 651.1C733.2 651.4 733.8 653.7 734.4 656.2C735.0 658.6 735.6 666.9 736.1 665.8C736.6 664.7 737.1 653.9 737.5 649.7C738.0 645.5 738.5 640.8 739.0 640.6C739.5 640.5 740.1 644.7 740.7 648.9C741.3 653.1 741.8 661.4 742.4 665.8C742.9 670.2 743.3 671.6 743.8 675.5C744.3 679.3 744.7 688.7 745.3 688.8C745.9 689.0 746.7 680.9 747.4 676.3C748.1 671.8 748.8 666.1 749.5 661.6C750.2 657.1 750.9 652.3 751.6 649.5C752.3 646.7 753.1 641.9 753.7 644.8C754.3 647.8 754.8 660.7 755.4 667.3C755.9 673.9 756.4 684.7 757.0 684.7C757.7 684.6 758.4 672.3 759.1 667.0C759.8 661.8 760.6 657.5 761.2 653.2C761.9 649.0 762.4 644.9 762.9 641.5C763.5 638.2 764.0 632.6 764.6 633.1C765.2 633.6 766.0 641.6 766.7 644.6C767.4 647.6 768.1 650.9 768.8 651.1C769.5 651.3 770.2 647.5 770.9 645.8C771.6 644.0 772.3 639.8 773.0 640.6C773.7 641.4 774.4 646.6 775.1 650.4C775.8 654.3 776.6 662.5 777.2 663.7C777.8 664.8 778.1 659.4 778.6 657.3C779.1 655.2 779.5 650.7 780.1 651.1C780.7 651.5 781.5 657.4 782.2 659.8C782.9 662.3 783.5 667.0 784.3 665.8C785.1 664.6 786.1 655.9 787.0 652.8C787.9 649.6 788.9 645.7 789.7 646.9C790.6 648.2 791.1 657.0 791.8 660.2C792.5 663.3 793.2 663.2 793.9 665.8C794.6 668.4 795.3 670.6 796.0 675.9C796.7 681.1 797.4 695.2 798.1 697.2C798.9 699.3 799.8 691.9 800.6 688.0C801.5 684.2 802.4 678.0 803.2 674.2C803.9 670.3 804.6 669.2 805.3 665.0C806.0 660.8 806.7 652.8 807.4 649.0C808.0 645.3 808.5 643.9 809.0 642.5C809.6 641.1 810.0 640.0 810.7 640.6C811.4 641.3 812.4 644.8 813.2 646.2C814.1 647.6 814.9 646.7 815.7 649.0C816.6 651.3 817.4 655.8 818.3 659.9C819.1 663.9 819.9 672.2 820.8 673.3C821.6 674.5 822.6 669.2 823.5 666.9C824.4 664.6 825.4 661.8 826.2 659.5C827.0 657.2 827.6 654.3 828.3 652.9C829.0 651.5 829.6 651.3 830.4 651.1C831.2 650.9 832.2 650.9 833.1 651.5C834.1 652.2 835.1 651.8 835.9 655.3C836.7 658.8 837.3 665.0 838.0 672.3C838.7 679.7 839.4 694.4 840.1 699.3C840.8 704.2 841.5 701.4 842.2 701.8C842.9 702.1 843.6 703.3 844.3 701.4C845.0 699.6 845.7 693.6 846.4 690.8C847.1 688.0 847.7 685.4 848.4 684.7C849.1 683.9 849.8 686.1 850.5 686.5C851.2 686.8 851.9 687.2 852.6 686.8C853.4 686.3 854.3 685.6 855.2 683.9C856.0 682.1 856.9 676.3 857.7 676.3C858.4 676.3 859.1 682.2 859.8 684.0C860.5 685.7 861.2 687.9 861.9 686.8C862.6 685.6 863.3 680.0 864.0 677.2C864.7 674.4 865.4 671.4 866.1 670.0C866.8 668.5 867.5 668.8 868.2 668.5C868.9 668.1 869.6 665.8 870.3 667.9C871.0 669.9 871.6 676.5 872.3 680.7C873.0 684.9 873.7 690.7 874.4 693.0C875.2 695.4 876.1 694.6 877.0 694.9C877.8 695.3 878.6 694.2 879.5 695.1C880.3 696.1 881.3 697.8 882.2 700.6C883.1 703.4 883.9 712.5 884.9 711.9C885.9 711.3 887.0 703.0 888.1 696.8C889.1 690.7 890.4 677.4 891.2 675.0C892.0 672.6 892.3 680.7 892.9 682.6C893.5 684.6 894.0 684.4 894.6 686.8C895.1 689.1 895.5 694.1 896.0 696.5C896.5 699.0 897.1 700.8 897.5 701.4C898.0 702.1 898.3 700.3 898.8 700.3C899.2 700.4 899.4 699.6 900.0 701.5C900.6 703.4 901.4 709.4 902.1 711.9C902.8 714.3 903.1 715.4 904.2 716.2C905.2 717.0 907.0 716.1 908.4 716.8C909.8 717.5 911.4 722.5 912.6 720.4C913.8 718.2 914.7 708.8 915.7 703.9C916.8 699.0 917.8 695.4 918.9 691.0C919.9 686.6 921.0 682.5 922.0 677.6C923.1 672.7 924.1 664.7 925.2 661.7C926.2 658.6 927.3 660.7 928.3 659.2C929.4 657.7 930.6 649.8 931.5 652.4C932.3 655.1 932.9 666.6 933.6 675.2C934.3 683.7 935.0 699.0 935.7 703.6C936.4 708.3 937.1 703.8 937.8 703.1C938.5 702.4 939.2 698.6 939.9 699.4C940.6 700.3 941.3 705.3 942.0 708.1C942.7 710.9 943.2 716.9 944.0 716.2C944.9 715.5 946.1 707.6 947.2 704.1C948.2 700.6 949.5 696.0 950.3 695.2C951.2 694.4 951.7 697.7 952.4 699.4C953.1 701.2 953.8 702.8 954.5 705.7C955.3 708.6 956.2 711.9 957.1 716.8C957.9 721.7 958.7 733.7 959.6 735.1C960.4 736.4 961.4 727.3 962.3 724.9C963.2 722.4 964.2 723.8 965.0 720.4C965.8 717.0 966.4 708.5 967.1 704.3C967.8 700.1 968.4 697.8 969.2 695.2C970.0 692.6 971.0 691.3 971.9 688.6C972.9 686.0 973.8 677.5 974.7 679.3C975.5 681.0 976.4 694.2 977.2 699.0C978.0 703.7 978.8 704.7 979.7 707.8C980.6 711.0 981.5 713.3 982.4 717.9C983.3 722.4 984.3 733.1 985.2 735.1C986.0 737.1 986.8 731.0 987.7 730.0C988.5 728.9 989.1 730.6 990.2 728.8C991.3 726.9 993.0 724.1 994.4 718.8C995.8 713.6 997.5 701.1 998.6 697.3C999.6 693.6 1000.0 696.7 1000.7 696.4C1001.4 696.0 1002.0 698.0 1002.8 695.2C1003.6 692.4 1004.6 684.4 1005.5 679.5C1006.4 674.6 1007.4 671.7 1008.2 665.9C1009.1 660.0 1009.9 650.5 1010.8 644.6C1011.6 638.6 1012.5 632.9 1013.3 630.2C1014.0 627.5 1014.7 629.1 1015.4 628.4C1016.1 627.7 1016.8 622.9 1017.5 626.0C1018.2 629.1 1018.9 641.3 1019.6 646.8C1020.3 652.4 1021.0 659.1 1021.7 659.6C1022.4 660.0 1023.1 652.9 1023.8 649.8C1024.5 646.6 1025.2 641.4 1025.9 640.7C1026.6 640.0 1027.3 643.7 1028.0 645.5C1028.7 647.2 1029.4 651.5 1030.0 651.2C1030.7 650.8 1031.4 645.2 1032.1 643.5C1032.8 641.7 1033.5 642.7 1034.2 640.7C1034.9 638.7 1035.6 636.0 1036.3 631.5C1037.0 626.9 1037.7 614.5 1038.4 613.4C1039.1 612.4 1039.8 619.2 1040.5 625.1C1041.2 631.1 1041.9 644.7 1042.6 649.1C1043.3 653.4 1044.0 650.4 1044.7 651.1C1045.4 651.8 1046.2 653.1 1046.8 653.3C1047.5 653.5 1047.9 653.1 1048.5 652.4C1049.1 651.7 1049.6 648.8 1050.2 649.1C1050.8 649.3 1051.6 651.5 1052.3 653.9C1053.0 656.3 1053.7 663.5 1054.4 663.8C1055.1 664.0 1055.8 658.8 1056.5 655.3C1057.2 651.8 1057.9 642.7 1058.6 642.8C1059.3 642.9 1060.0 652.7 1060.7 655.8C1061.4 659.0 1062.1 662.1 1062.8 661.7C1063.5 661.2 1064.2 656.4 1064.9 653.3C1065.6 650.1 1066.3 645.9 1067.0 642.8C1067.7 639.7 1068.4 638.3 1069.1 634.8C1069.8 631.3 1070.5 627.4 1071.2 621.8C1071.9 616.2 1072.6 606.7 1073.3 601.4C1074.0 596.2 1074.7 593.2 1075.4 590.3C1076.1 587.5 1076.8 586.0 1077.5 584.1C1078.2 582.1 1078.9 575.6 1079.6 578.6C1080.3 581.6 1081.0 591.9 1081.7 602.3C1082.3 612.6 1083.2 633.7 1083.7 640.7C1084.3 647.6 1084.7 643.3 1085.2 644.0C1085.7 644.7 1086.2 642.7 1086.7 644.9C1087.2 647.1 1087.7 652.4 1088.2 657.3C1088.6 662.2 1089.0 671.1 1089.6 674.2C1090.2 677.4 1091.0 675.5 1091.7 676.2C1092.4 676.9 1093.0 680.5 1093.8 678.4C1094.6 676.4 1095.6 671.3 1096.5 663.8C1097.5 656.2 1098.6 632.9 1099.3 633.1C1100.0 633.4 1100.2 656.6 1100.7 665.2C1101.2 673.8 1101.6 683.2 1102.2 684.7C1102.8 686.3 1103.6 679.9 1104.3 674.6C1105.0 669.4 1105.8 657.2 1106.4 653.3C1107.0 649.3 1107.5 651.7 1108.1 651.0C1108.6 650.3 1109.1 648.4 1109.8 649.1C1110.4 649.8 1111.2 653.2 1111.9 655.3C1112.6 657.4 1113.4 661.7 1114.0 661.7C1114.5 661.6 1114.7 657.8 1115.0 655.0C1115.4 652.2 1115.4 642.9 1116.1 644.9C1116.7 646.8 1117.9 659.2 1118.8 666.6C1119.7 673.9 1120.7 684.2 1121.5 688.9C1122.3 693.6 1122.9 692.4 1123.6 694.8C1124.3 697.3 1125.0 702.7 1125.7 703.6C1126.4 704.5 1127.1 701.1 1127.8 700.1C1128.5 699.0 1129.2 701.1 1129.9 697.3C1130.6 693.5 1131.3 682.6 1132.0 677.4C1132.7 672.2 1133.4 669.7 1134.1 665.9C1134.8 662.0 1135.5 657.8 1136.2 654.3C1136.9 650.8 1137.5 644.0 1138.3 644.9C1139.1 645.8 1140.0 656.1 1140.8 659.6C1141.6 663.1 1142.6 665.5 1143.3 665.9C1144.1 666.2 1144.7 664.1 1145.4 661.6C1146.1 659.2 1146.8 654.6 1147.5 651.2C1148.2 647.7 1148.9 644.7 1149.6 640.8C1150.3 637.0 1151.0 632.7 1151.7 628.1C1152.4 623.5 1153.1 618.3 1153.8 613.4C1154.5 608.5 1155.3 603.1 1155.9 598.7C1156.5 594.4 1157.0 590.7 1157.6 587.3C1158.1 583.9 1158.6 575.8 1159.3 578.6C1159.9 581.4 1160.7 592.4 1161.4 604.2C1162.1 615.9 1162.8 644.3 1163.5 649.1C1164.2 653.9 1164.9 637.6 1165.6 633.0C1166.3 628.5 1167.0 621.7 1167.7 621.8C1168.4 621.9 1169.0 630.4 1169.7 633.5C1170.4 636.7 1171.3 639.9 1171.8 640.7C1172.4 641.5 1172.8 639.7 1173.3 638.3C1173.8 636.9 1174.2 632.5 1174.8 632.3C1175.4 632.0 1176.2 635.0 1176.9 636.8C1177.6 638.5 1178.4 642.2 1179.0 642.8C1179.6 643.3 1180.0 641.4 1180.4 640.0C1180.9 638.6 1181.3 636.1 1181.9 634.4C1182.5 632.7 1183.3 631.9 1184.0 629.8C1184.7 627.7 1185.3 621.1 1186.1 621.8C1186.9 622.5 1187.9 630.5 1188.8 634.0C1189.7 637.5 1190.8 640.3 1191.6 642.8C1192.4 645.3 1193.0 647.2 1193.7 648.9C1194.4 650.7 1195.1 652.6 1195.8 653.3C1196.5 653.9 1197.2 653.4 1197.9 653.0C1198.6 652.7 1199.1 654.9 1200.0 651.2C1200.8 647.4 1201.8 636.7 1202.7 630.4C1203.6 624.1 1204.5 617.5 1205.4 613.4C1206.3 609.3 1207.1 608.8 1207.9 605.6C1208.8 602.5 1209.7 594.3 1210.4 594.5C1211.1 594.7 1211.6 601.9 1212.1 606.8C1212.7 611.7 1213.2 617.9 1213.8 623.9C1214.4 629.9 1215.2 636.3 1215.9 642.6C1216.6 648.9 1217.2 661.3 1218.0 661.7C1218.8 662.0 1219.7 651.7 1220.5 644.7C1221.3 637.7 1222.1 623.8 1223.0 619.7C1224.0 615.6 1225.1 620.2 1226.2 620.2C1227.2 620.2 1228.4 617.0 1229.3 619.7C1230.2 622.5 1230.7 630.0 1231.4 636.7C1232.1 643.3 1232.8 653.8 1233.5 659.6C1234.2 665.3 1234.9 668.5 1235.6 671.3C1236.3 674.1 1237.0 676.4 1237.7 676.3C1238.4 676.3 1239.1 673.1 1239.8 671.0C1240.5 668.9 1241.3 664.2 1241.9 663.8C1242.5 663.3 1242.9 667.0 1243.4 668.3C1243.9 669.7 1244.2 675.1 1244.8 672.1C1245.4 669.2 1246.2 655.9 1246.9 650.6C1247.6 645.4 1248.2 643.2 1249.0 640.7C1249.8 638.2 1250.9 637.4 1251.8 635.7C1252.7 634.0 1253.7 635.8 1254.5 630.2C1255.3 624.6 1255.9 609.9 1256.6 601.9C1257.3 593.8 1258.0 581.3 1258.7 582.0C1259.4 582.6 1260.1 598.5 1260.8 605.5C1261.5 612.5 1262.3 618.5 1262.9 623.9C1263.5 629.3 1263.9 633.3 1264.3 638.2C1264.8 643.1 1265.3 650.9 1265.8 653.3C1266.3 655.6 1266.9 653.0 1267.5 652.3C1268.1 651.6 1268.4 644.2 1269.2 649.1C1269.9 653.9 1271.0 671.6 1271.9 681.4C1272.8 691.2 1273.9 703.1 1274.6 707.8C1275.3 712.5 1275.6 709.4 1276.1 709.8C1276.6 710.1 1277.3 709.9 1277.6 709.9" fill="none" stroke="#f8c845" stroke-width="2.6" stroke-linejoin="round" stroke-linecap="round"/>
<path d="M716.5 554V930" stroke="#77747a" stroke-width="1.2" fill="none"/>
<path d="M548 890.5H1276" stroke="#77747a" stroke-width="1.2" stroke-dasharray="2 3.5" fill="none"/>
<circle cx="552.0" cy="890.5" r="5" fill="#3b83f1"/>
<circle cx="572.6" cy="890.5" r="5" fill="#3b83f1"/>
<circle cx="591.0" cy="890.5" r="5" fill="#3b83f1"/>
<circle cx="612.8" cy="890.5" r="5" fill="#3b83f1"/>
<circle cx="633.8" cy="890.5" r="5" fill="#3b83f1"/>
<circle cx="653.5" cy="890.5" r="5" fill="#3b83f1"/>
<circle cx="673.6" cy="890.5" r="5" fill="#3b83f1"/>
<circle cx="693.7" cy="890.5" r="5" fill="#3b83f1"/>
<circle cx="713.9" cy="890.5" r="5" fill="#3b83f1"/>
<circle cx="732.7" cy="890.5" r="5" fill="#3b83f1"/>
<circle cx="752.4" cy="890.5" r="5" fill="#3b83f1"/>
<circle cx="772.6" cy="890.5" r="5" fill="#3b83f1"/>
<circle cx="793.1" cy="890.5" r="5" fill="#3b83f1"/>
<circle cx="812.0" cy="890.5" r="5" fill="#3b83f1"/>
<circle cx="831.7" cy="890.5" r="5" fill="#3b83f1"/>
<circle cx="851.8" cy="890.5" r="5" fill="#3b83f1"/>
<circle cx="871.5" cy="890.5" r="5" fill="#3b83f1"/>
<circle cx="890.8" cy="890.5" r="5" fill="#3b83f1"/>
<circle cx="913.0" cy="890.5" r="5" fill="#3b83f1"/>
<circle cx="933.0" cy="890.5" r="5" fill="#3b83f1"/>
<circle cx="953.7" cy="890.5" r="5" fill="#3b83f1"/>
<circle cx="976.0" cy="890.5" r="5" fill="#3b83f1"/>
<circle cx="998.6" cy="890.5" r="5" fill="#3b83f1"/>
<circle cx="1018.7" cy="890.5" r="5" fill="#3b83f1"/>
<circle cx="1038.4" cy="890.5" r="5" fill="#3b83f1"/>
<circle cx="1058.6" cy="890.5" r="5" fill="#3b83f1"/>
<circle cx="1079.5" cy="890.5" r="5" fill="#3b83f1"/>
<circle cx="1100.0" cy="890.5" r="5" fill="#3b83f1"/>
<circle cx="1119.8" cy="890.5" r="5" fill="#3b83f1"/>
<circle cx="1139.0" cy="890.5" r="5" fill="#3b83f1"/>
<circle cx="1158.8" cy="890.5" r="5" fill="#3b83f1"/>
<circle cx="1167.6" cy="890.5" r="5" fill="#3b83f1"/>
<circle cx="1178.5" cy="890.5" r="5" fill="#3b83f1"/>
<circle cx="1191.6" cy="890.5" r="5" fill="#3b83f1"/>
<circle cx="1208.8" cy="890.5" r="5" fill="#3b83f1"/>
<circle cx="1229.3" cy="890.5" r="5" fill="#3b83f1"/>
<circle cx="1239.8" cy="890.5" r="5" fill="#3b83f1"/>
<circle cx="1260.0" cy="890.5" r="5" fill="#3b83f1"/>
</svg>

<!-- ======= RIGHT: 流量来源 ======= -->
<div class="panel" style="left:1398px;top:89px;width:405px;height:313px;background:linear-gradient(100deg,#33292f 0%,#2e282c 35%,#292628 75%,#262525 100%)"></div>
<div class="t b h" style="left:1417.5px;top:124.3px">流量来源</div>
<div class="a" style="left:1616.7px;top:119.4px;width:10px;height:10px;border-radius:50%;background:#f4605f"></div>
<div class="t" style="left:1632px;top:124.2px;font-size:15.1px;color:#bdb7bd">自然流量</div>
<div class="a" style="left:1706.5px;top:119.4px;width:10px;height:10px;border-radius:50%;background:#f7c03a"></div>
<div class="t" style="left:1721.6px;top:124.2px;font-size:15.1px;color:#bdb7bd">商业流量</div>
<svg class="a" style="left:1398px;top:89px" width="405" height="313" viewBox="1398 89 405 313">
  <g transform="translate(1600 271.6)">
    <circle r="43.5" fill="none" stroke="#f56161" stroke-width="22"/>
    <circle r="43.5" fill="none" stroke="#f8bb34" stroke-width="22" stroke-dasharray="64.77 208.55" transform="rotate(184.68)"/>
  </g>
  <path d="M1539 213H1548.5L1565 231" fill="none" stroke="#6b656a" stroke-width="1"/>
  <path d="M1637 312L1654.5 330.5H1663" fill="none" stroke="#6b656a" stroke-width="1"/>
</svg>
<div class="t b" style="left:1469.3px;top:212.3px;font-size:19px;color:#fff">23.70%</div>
<div class="t b" style="left:1666.8px;top:329px;font-size:19px;color:#fff">76.30%</div>

<!-- ======= RIGHT: 直播画面 ======= -->
<div class="panel" style="left:1398px;top:421px;width:405px;height:530px;background:radial-gradient(ellipse 500px 640px at 0 0,#372a34 0%,#30292f 35%,#2b282b 70%,#272627 100%)"></div>
<div class="t b h" style="left:1418px;top:458px">直播画面</div>
<div class="a" style="left:1440.5px;top:473.2px;width:35px;height:4.5px;border-radius:3px;background:#ea3560"></div>
<div class="t h" style="left:1528.5px;top:458px;color:#6b666b">实时评价</div>
<div class="t c" style="left:1600px;top:712px;font-size:17.6px;color:#c9c4c9">直播已结束，暂不支持</div>
<div class="t c" style="left:1600.5px;top:739px;font-size:17.6px;color:#c9c4c9">回放直播画面</div>

</body>
</html>
